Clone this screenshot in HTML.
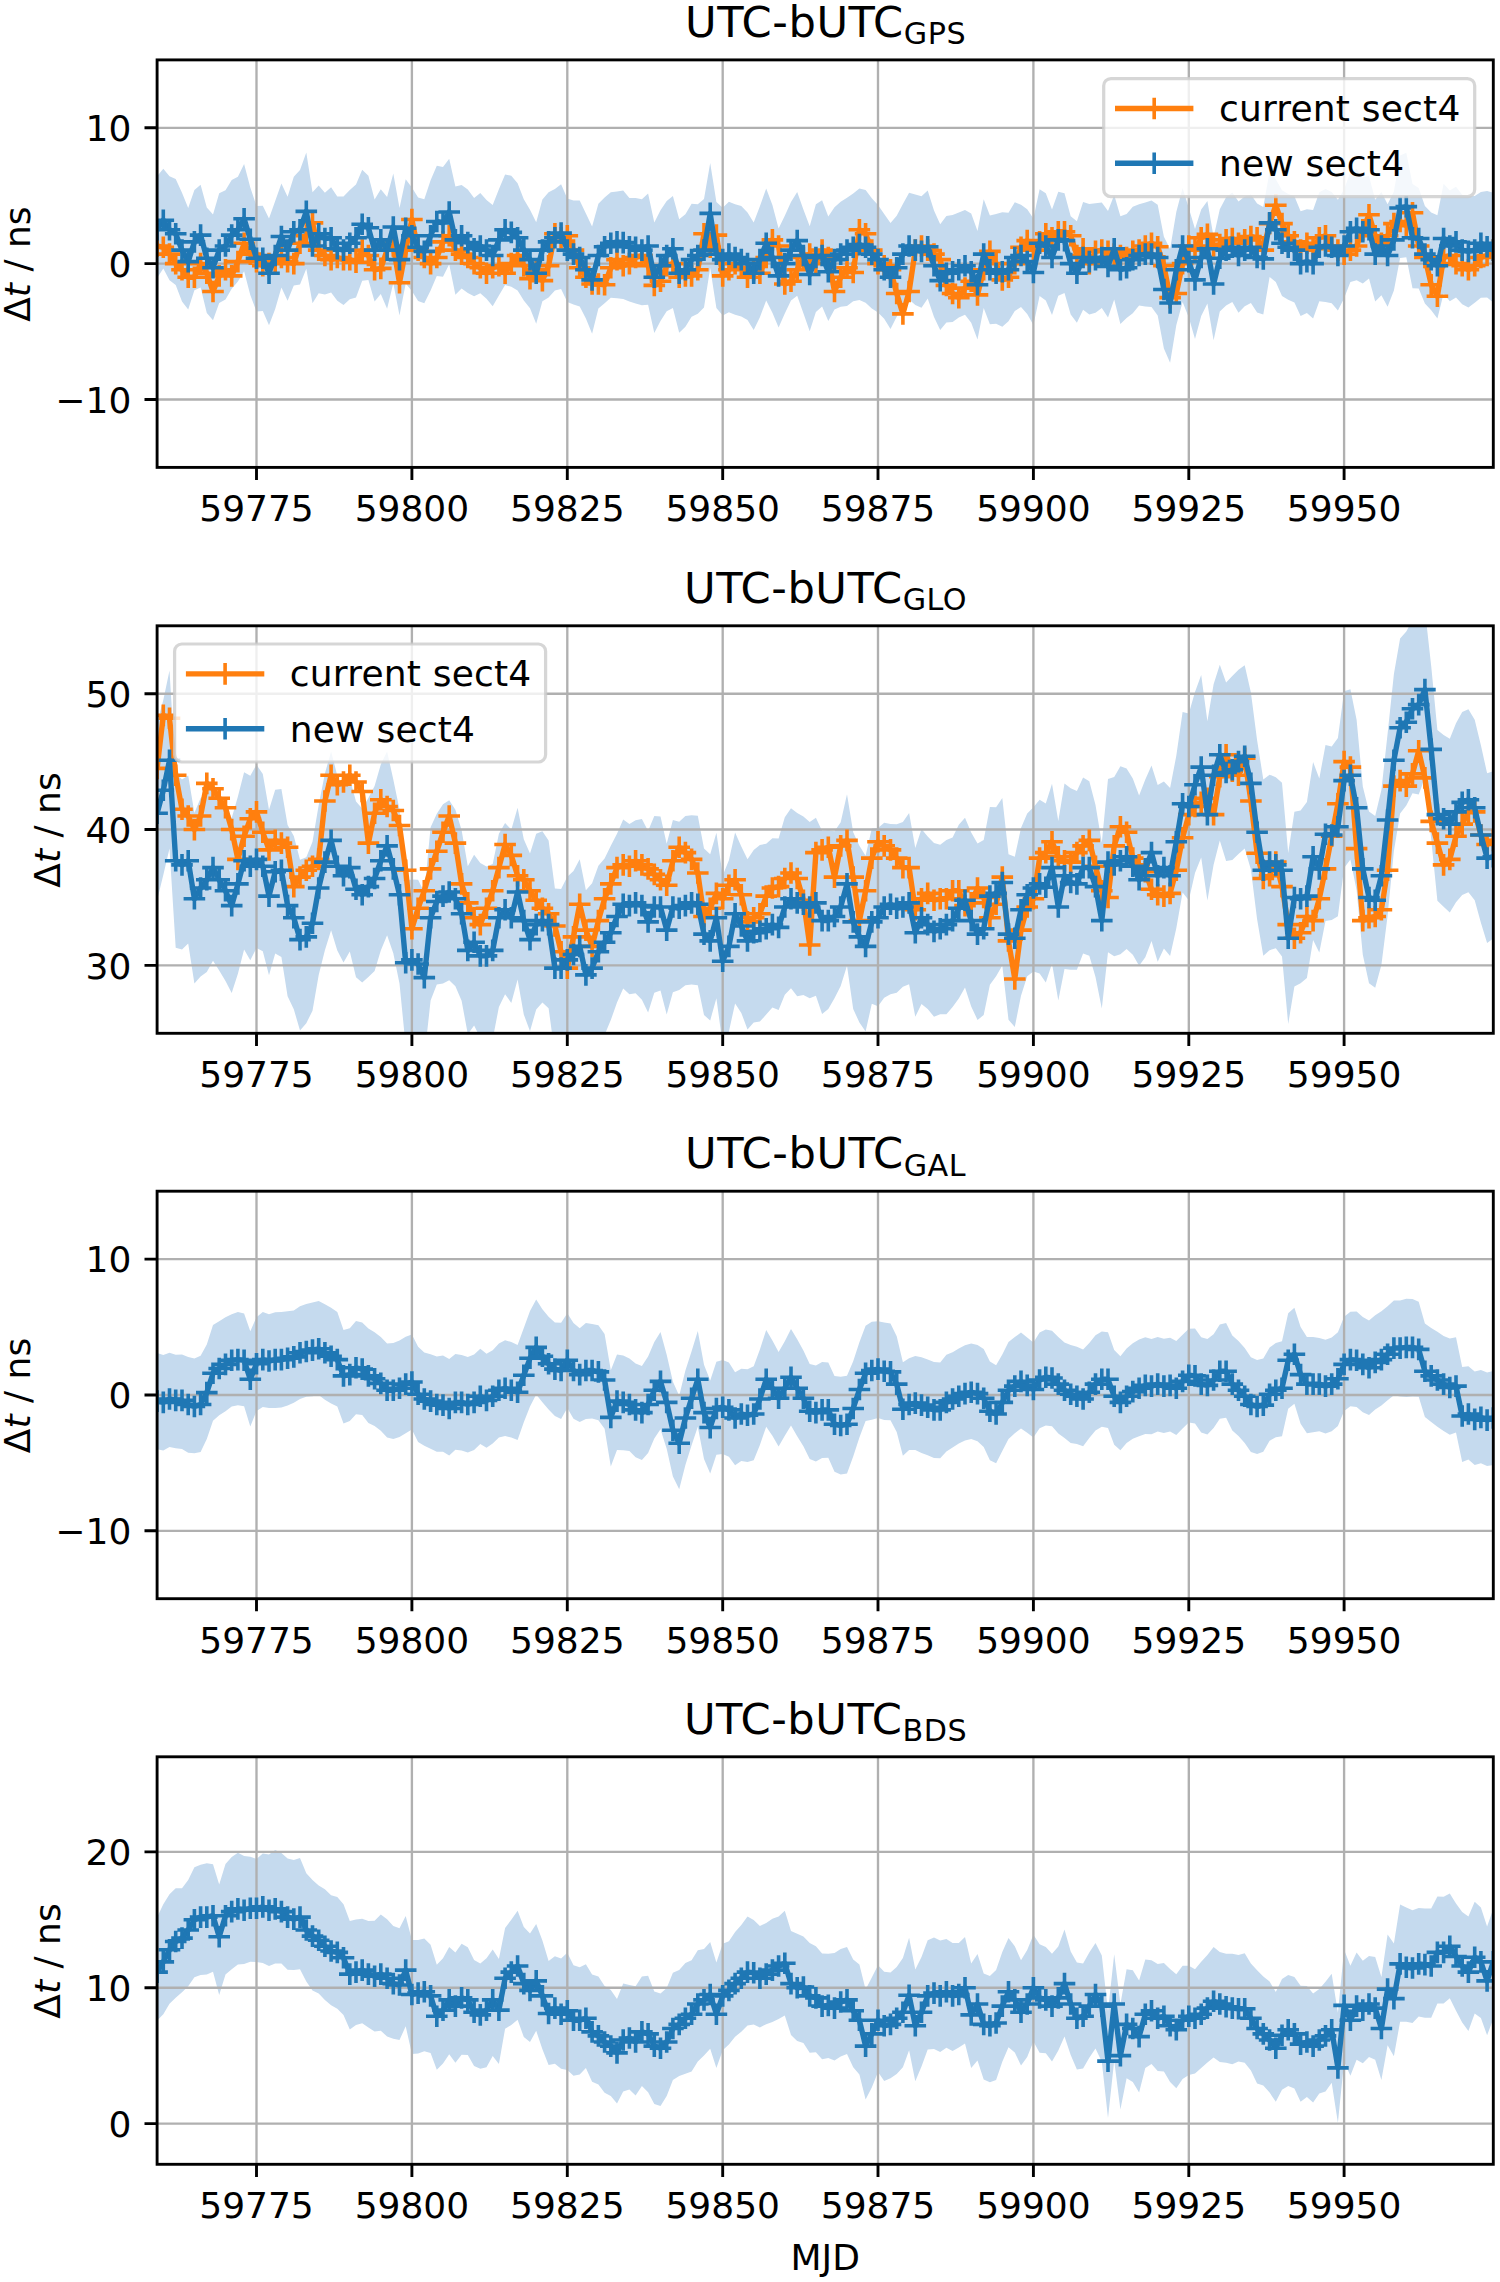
<!DOCTYPE html><html><head><meta charset="utf-8"><title>UTC-bUTC</title><style>html,body{margin:0;padding:0;background:#fff}svg{display:block}</style></head><body><svg width="1500" height="2282" viewBox="0 0 1500 2282" font-family="DejaVu Sans, Liberation Sans, sans-serif">
<rect width="1500" height="2282" fill="#fff"/>
<defs>
<clipPath id="c0"><rect x="157.1" y="59.9" width="1336.2" height="407.5"/></clipPath>
<clipPath id="c1"><rect x="157.1" y="625.8" width="1336.2" height="407.5"/></clipPath>
<clipPath id="c2"><rect x="157.1" y="1191.2" width="1336.2" height="407.5"/></clipPath>
<clipPath id="c3"><rect x="157.1" y="1756.8" width="1336.2" height="407.5"/></clipPath>
</defs>
<g clip-path="url(#c0)">
<polygon points="157.1,176.3 163.3,168.8 169.5,176.2 175.7,178.9 182.0,192.8 188.2,207.9 194.4,189.9 200.6,184.8 206.8,207.4 213.0,214.6 219.2,193.3 225.5,190.3 231.7,179.9 237.9,176.7 244.1,164.0 250.3,187.5 256.5,206.1 262.8,205.7 269.0,218.4 275.2,200.9 281.4,183.6 287.6,196.7 293.8,176.7 300.0,170.0 306.3,152.5 312.5,192.3 318.7,185.4 324.9,192.8 331.1,187.2 337.3,196.4 343.5,196.5 349.8,189.9 356.0,184.4 362.2,169.8 368.4,175.8 374.6,199.6 380.8,189.2 387.1,197.1 393.3,173.5 399.5,208.1 405.7,179.2 411.9,187.4 418.1,197.4 424.3,199.3 430.6,180.2 436.8,165.8 443.0,166.9 449.2,158.8 455.4,186.5 461.6,185.1 467.8,189.4 474.1,198.0 480.3,193.1 486.5,199.9 492.7,205.1 498.9,189.3 505.1,174.4 511.3,175.7 517.6,183.2 523.8,199.3 530.0,209.7 536.2,222.2 542.4,199.4 548.6,192.2 554.9,189.0 561.1,184.3 567.3,198.4 573.5,200.4 579.7,200.5 585.9,213.6 592.1,226.4 598.4,203.8 604.6,197.6 610.8,192.2 617.0,191.4 623.2,190.4 629.4,197.9 635.6,198.0 641.9,199.2 648.1,193.4 654.3,222.4 660.5,210.3 666.7,201.0 672.9,196.1 679.2,219.2 685.4,214.3 691.6,203.7 697.8,204.3 704.0,199.0 710.2,163.1 716.4,202.0 722.7,207.8 728.9,201.7 735.1,204.3 741.3,206.0 747.5,212.4 753.7,222.4 759.9,206.2 766.2,188.5 772.4,205.0 778.6,228.6 784.8,215.8 791.0,202.1 797.2,192.1 803.4,209.4 809.7,226.2 815.9,204.3 822.1,200.2 828.3,216.4 834.5,207.3 840.7,201.7 847.0,197.7 853.2,193.4 859.4,188.5 865.6,189.9 871.8,198.3 878.0,205.1 884.2,214.1 890.5,223.1 896.7,215.8 902.9,203.9 909.1,192.8 915.3,194.6 921.5,196.2 927.7,190.6 934.0,210.5 940.2,224.3 946.4,216.1 952.6,215.0 958.8,212.6 965.0,209.9 971.2,213.5 977.5,230.9 983.7,199.3 989.9,215.5 996.1,213.9 1002.3,212.2 1008.5,212.8 1014.8,202.2 1021.0,204.7 1027.2,209.2 1033.4,218.6 1039.6,189.2 1045.8,193.2 1052.0,209.4 1058.3,191.7 1064.5,193.2 1070.7,216.2 1076.9,221.3 1083.1,201.9 1089.3,204.0 1095.5,203.3 1101.8,202.4 1108.0,210.9 1114.2,195.0 1120.4,216.2 1126.6,214.0 1132.8,206.7 1139.1,204.3 1145.3,202.5 1151.5,200.5 1157.7,204.8 1163.9,236.8 1170.1,249.0 1176.3,212.1 1182.6,188.1 1188.8,208.1 1195.0,228.9 1201.2,209.6 1207.4,200.9 1213.6,237.1 1219.8,209.3 1226.1,197.3 1232.3,192.5 1238.5,201.6 1244.7,196.5 1250.9,194.5 1257.1,203.4 1263.3,207.1 1269.6,171.5 1275.8,179.2 1282.0,190.2 1288.2,194.1 1294.4,196.2 1300.6,211.2 1306.9,209.2 1313.1,209.9 1319.3,192.2 1325.5,189.1 1331.7,192.0 1337.9,199.8 1344.1,189.4 1350.4,171.9 1356.6,168.9 1362.8,177.2 1369.0,176.0 1375.2,199.8 1381.4,191.9 1387.6,204.3 1393.9,191.5 1400.1,155.6 1406.3,152.7 1412.5,184.1 1418.7,187.9 1424.9,205.9 1431.2,212.4 1437.4,215.2 1443.6,183.8 1449.8,190.6 1456.0,186.7 1462.2,194.8 1468.4,196.3 1474.7,195.9 1480.9,191.9 1487.1,191.0 1493.3,192.8 1493.3,302.6 1487.1,297.4 1480.9,297.8 1474.7,302.7 1468.4,307.4 1462.2,304.2 1456.0,297.5 1449.8,301.2 1443.6,293.6 1437.4,318.4 1431.2,310.2 1424.9,303.6 1418.7,288.5 1412.5,288.2 1406.3,257.2 1400.1,258.1 1393.9,290.6 1387.6,306.7 1381.4,295.2 1375.2,301.5 1369.0,278.6 1362.8,283.4 1356.6,280.3 1350.4,282.0 1344.1,298.2 1337.9,310.5 1331.7,303.2 1325.5,302.1 1319.3,301.2 1313.1,318.6 1306.9,313.1 1300.6,316.0 1294.4,302.4 1288.2,299.8 1282.0,296.1 1275.8,282.0 1269.6,276.9 1263.3,314.5 1257.1,312.4 1250.9,303.1 1244.7,306.3 1238.5,312.7 1232.3,302.1 1226.1,305.6 1219.8,311.4 1213.6,340.2 1207.4,303.6 1201.2,316.0 1195.0,339.1 1188.8,317.6 1182.6,302.1 1176.3,325.2 1170.1,362.7 1163.9,348.5 1157.7,315.5 1151.5,306.9 1145.3,306.5 1139.1,305.4 1132.8,313.2 1126.6,318.1 1120.4,323.9 1114.2,299.5 1108.0,317.6 1101.8,307.9 1095.5,312.8 1089.3,314.5 1083.1,309.8 1076.9,322.8 1070.7,314.4 1064.5,293.1 1058.3,295.7 1052.0,314.9 1045.8,300.5 1039.6,296.0 1033.4,325.0 1027.2,313.9 1021.0,307.0 1014.8,311.0 1008.5,321.2 1002.3,326.8 996.1,323.8 989.9,324.2 983.7,308.1 977.5,339.4 971.2,322.8 965.0,314.7 958.8,317.6 952.6,322.0 946.4,322.5 940.2,330.0 934.0,316.9 927.7,298.5 921.5,307.8 915.3,305.0 909.1,299.5 902.9,306.0 896.7,316.8 890.5,328.9 884.2,318.8 878.0,312.4 871.8,308.5 865.6,302.8 859.4,300.0 853.2,301.2 847.0,306.0 840.7,306.7 834.5,309.5 828.3,321.1 822.1,306.4 815.9,312.0 809.7,331.2 803.4,313.2 797.2,295.7 791.0,300.4 784.8,313.4 778.6,327.5 772.4,312.8 766.2,300.5 759.9,317.3 753.7,330.0 747.5,320.0 741.3,316.5 735.1,314.8 728.9,312.2 722.7,315.4 716.4,308.1 710.2,267.9 704.0,307.4 697.8,313.7 691.6,316.7 685.4,326.8 679.2,332.8 672.9,307.9 666.7,311.2 660.5,321.1 654.3,332.9 648.1,304.8 641.9,305.2 635.6,303.5 629.4,301.5 623.2,299.1 617.0,298.2 610.8,297.7 604.6,303.3 598.4,308.6 592.1,333.8 585.9,318.6 579.7,306.6 573.5,304.4 567.3,302.0 561.1,289.0 554.9,290.6 548.6,297.6 542.4,301.2 536.2,323.7 530.0,308.3 523.8,300.6 517.6,290.5 511.3,286.8 505.1,285.0 498.9,295.4 492.7,306.2 486.5,298.8 480.3,293.2 474.1,296.3 467.8,293.1 461.6,288.6 455.4,294.8 449.2,264.3 443.0,276.7 436.8,275.9 430.6,290.4 424.3,303.3 418.1,301.0 411.9,291.1 405.7,283.6 399.5,315.5 393.3,283.3 387.1,308.7 380.8,293.9 374.6,301.5 368.4,280.1 362.2,280.8 356.0,297.4 349.8,299.2 343.5,305.0 337.3,300.8 331.1,292.6 324.9,294.4 318.7,293.2 312.5,303.3 306.3,268.8 300.0,284.6 293.8,285.4 287.6,300.7 281.4,287.5 275.2,309.1 269.0,325.2 262.8,310.9 256.5,311.6 250.3,295.1 244.1,271.2 237.9,281.5 231.7,288.8 225.5,299.4 219.2,303.0 213.0,320.3 206.8,313.1 200.6,287.5 194.4,290.2 188.2,309.6 182.0,301.4 175.7,285.1 169.5,280.3 163.3,268.5 157.1,278.0" fill="#c5daee"/>
<path d="M256.5 59.9V467.4M411.9 59.9V467.4M567.3 59.9V467.4M722.7 59.9V467.4M878.0 59.9V467.4M1033.4 59.9V467.4M1188.8 59.9V467.4M1344.1 59.9V467.4M157.1 399.5H1493.3M157.1 263.6H1493.3M157.1 127.8H1493.3" stroke="#b0b0b0" stroke-width="2.35" fill="none"/>
<path d="M157.1 246.0 L163.3 247.3 L169.5 254.1 L175.7 263.6 L182.0 269.8 L188.2 277.2 L194.4 277.2 L200.6 263.6 L206.8 273.2 L213.0 291.5 L219.2 275.9 L225.5 269.8 L231.7 275.9 L237.9 261.6 L244.1 243.3 L250.3 254.1 L256.5 261.6 L262.8 265.7 L269.0 263.6 L275.2 261.6 L281.4 257.5 L287.6 261.6 L293.8 263.6 L300.0 243.3 L306.3 235.8 L312.5 222.9 L318.7 250.1 L324.9 255.5 L331.1 259.6 L337.3 257.5 L343.5 259.6 L349.8 259.6 L356.0 262.3 L362.2 250.1 L368.4 255.5 L374.6 269.8 L380.8 268.4 L387.1 250.1 L393.3 246.0 L399.5 282.7 L405.7 250.1 L411.9 219.5 L418.1 250.1 L424.3 257.5 L430.6 263.6 L436.8 257.5 L443.0 241.9 L449.2 235.8 L455.4 250.1 L461.6 254.1 L467.8 257.5 L474.1 263.6 L480.3 267.7 L486.5 273.2 L492.7 267.7 L498.9 265.7 L505.1 273.2 L511.3 263.6 L517.6 255.5 L523.8 265.7 L530.0 278.6 L536.2 269.8 L542.4 280.6 L548.6 265.7 L554.9 233.8 L561.1 237.8 L567.3 235.8 L573.5 250.1 L579.7 267.7 L585.9 277.2 L592.1 284.0 L598.4 284.0 L604.6 284.7 L610.8 267.7 L617.0 259.6 L623.2 265.7 L629.4 263.6 L635.6 257.5 L641.9 255.5 L648.1 265.7 L654.3 285.4 L660.5 281.3 L666.7 265.7 L672.9 263.6 L679.2 277.2 L685.4 275.9 L691.6 275.9 L697.8 269.8 L704.0 233.8 L710.2 247.3 L716.4 235.1 L722.7 275.9 L728.9 269.8 L735.1 263.6 L741.3 267.7 L747.5 277.2 L753.7 269.8 L759.9 273.2 L766.2 257.5 L772.4 239.9 L778.6 246.0 L784.8 284.0 L791.0 281.3 L797.2 269.8 L803.4 257.5 L809.7 254.1 L815.9 263.6 L822.1 250.1 L828.3 257.5 L834.5 291.5 L840.7 277.2 L847.0 267.7 L853.2 272.5 L859.4 229.7 L865.6 233.8 L871.8 250.1 L878.0 263.6 L884.2 265.7 L890.5 269.8 L896.7 293.5 L902.9 313.9 L909.1 291.5 L915.3 250.1 L921.5 246.0 L927.7 250.1 L934.0 254.1 L940.2 259.6 L946.4 285.4 L952.6 293.5 L958.8 297.6 L965.0 288.1 L971.2 281.3 L977.5 294.9 L983.7 269.8 L989.9 251.4 L996.1 263.6 L1002.3 279.9 L1008.5 277.2 L1014.8 263.6 L1021.0 247.3 L1027.2 240.6 L1033.4 250.1 L1039.6 241.9 L1045.8 233.8 L1052.0 237.8 L1058.3 231.7 L1064.5 231.7 L1070.7 235.8 L1076.9 255.5 L1083.1 248.7 L1089.3 263.6 L1095.5 251.4 L1101.8 250.1 L1108.0 251.4 L1114.2 254.1 L1120.4 255.5 L1126.6 257.5 L1132.8 251.4 L1139.1 250.1 L1145.3 246.0 L1151.5 243.3 L1157.7 246.7 L1163.9 265.7 L1170.1 297.6 L1176.3 293.5 L1182.6 263.6 L1188.8 246.0 L1195.0 250.1 L1201.2 237.8 L1207.4 234.4 L1213.6 246.0 L1219.8 244.6 L1226.1 239.9 L1232.3 238.5 L1238.5 243.3 L1244.7 239.9 L1250.9 236.5 L1257.1 237.8 L1263.3 250.1 L1269.6 223.6 L1275.8 205.2 L1282.0 223.6 L1288.2 235.8 L1294.4 241.9 L1300.6 250.1 L1306.9 243.3 L1313.1 248.7 L1319.3 237.8 L1325.5 235.8 L1331.7 246.0 L1337.9 250.1 L1344.1 254.1 L1350.4 250.1 L1356.6 246.0 L1362.8 229.7 L1369.0 214.8 L1375.2 235.8 L1381.4 243.3 L1387.6 235.8 L1393.9 223.6 L1400.1 221.5 L1406.3 225.6 L1412.5 212.7 L1418.7 246.0 L1424.9 257.5 L1431.2 284.7 L1437.4 296.2 L1443.6 257.5 L1449.8 255.5 L1456.0 263.6 L1462.2 265.7 L1468.4 269.8 L1474.7 265.7 L1480.9 257.5 L1487.1 255.5 L1493.3 250.1" stroke="#ff7f0e" stroke-width="5.40" fill="none" stroke-linejoin="round"/>
<path d="M146.3 246.0h21.6M157.1 235.2v21.6M152.5 247.3h21.6M163.3 236.5v21.6M158.7 254.1h21.6M169.5 243.3v21.6M164.9 263.6h21.6M175.7 252.8v21.6M171.2 269.8h21.6M182.0 259.0v21.6M177.4 277.2h21.6M188.2 266.4v21.6M183.6 277.2h21.6M194.4 266.4v21.6M189.8 263.6h21.6M200.6 252.8v21.6M196.0 273.2h21.6M206.8 262.4v21.6M202.2 291.5h21.6M213.0 280.7v21.6M208.4 275.9h21.6M219.2 265.1v21.6M214.7 269.8h21.6M225.5 259.0v21.6M220.9 275.9h21.6M231.7 265.1v21.6M227.1 261.6h21.6M237.9 250.8v21.6M233.3 243.3h21.6M244.1 232.5v21.6M239.5 254.1h21.6M250.3 243.3v21.6M245.7 261.6h21.6M256.5 250.8v21.6M252.0 265.7h21.6M262.8 254.9v21.6M258.2 263.6h21.6M269.0 252.8v21.6M264.4 261.6h21.6M275.2 250.8v21.6M270.6 257.5h21.6M281.4 246.7v21.6M276.8 261.6h21.6M287.6 250.8v21.6M283.0 263.6h21.6M293.8 252.8v21.6M289.2 243.3h21.6M300.0 232.5v21.6M295.5 235.8h21.6M306.3 225.0v21.6M301.7 222.9h21.6M312.5 212.1v21.6M307.9 250.1h21.6M318.7 239.3v21.6M314.1 255.5h21.6M324.9 244.7v21.6M320.3 259.6h21.6M331.1 248.8v21.6M326.5 257.5h21.6M337.3 246.7v21.6M332.7 259.6h21.6M343.5 248.8v21.6M339.0 259.6h21.6M349.8 248.8v21.6M345.2 262.3h21.6M356.0 251.5v21.6M351.4 250.1h21.6M362.2 239.3v21.6M357.6 255.5h21.6M368.4 244.7v21.6M363.8 269.8h21.6M374.6 259.0v21.6M370.0 268.4h21.6M380.8 257.6v21.6M376.3 250.1h21.6M387.1 239.3v21.6M382.5 246.0h21.6M393.3 235.2v21.6M388.7 282.7h21.6M399.5 271.9v21.6M394.9 250.1h21.6M405.7 239.3v21.6M401.1 219.5h21.6M411.9 208.7v21.6M407.3 250.1h21.6M418.1 239.3v21.6M413.5 257.5h21.6M424.3 246.7v21.6M419.8 263.6h21.6M430.6 252.8v21.6M426.0 257.5h21.6M436.8 246.7v21.6M432.2 241.9h21.6M443.0 231.1v21.6M438.4 235.8h21.6M449.2 225.0v21.6M444.6 250.1h21.6M455.4 239.3v21.6M450.8 254.1h21.6M461.6 243.3v21.6M457.0 257.5h21.6M467.8 246.7v21.6M463.3 263.6h21.6M474.1 252.8v21.6M469.5 267.7h21.6M480.3 256.9v21.6M475.7 273.2h21.6M486.5 262.4v21.6M481.9 267.7h21.6M492.7 256.9v21.6M488.1 265.7h21.6M498.9 254.9v21.6M494.3 273.2h21.6M505.1 262.4v21.6M500.5 263.6h21.6M511.3 252.8v21.6M506.8 255.5h21.6M517.6 244.7v21.6M513.0 265.7h21.6M523.8 254.9v21.6M519.2 278.6h21.6M530.0 267.8v21.6M525.4 269.8h21.6M536.2 259.0v21.6M531.6 280.6h21.6M542.4 269.8v21.6M537.8 265.7h21.6M548.6 254.9v21.6M544.1 233.8h21.6M554.9 223.0v21.6M550.3 237.8h21.6M561.1 227.0v21.6M556.5 235.8h21.6M567.3 225.0v21.6M562.7 250.1h21.6M573.5 239.3v21.6M568.9 267.7h21.6M579.7 256.9v21.6M575.1 277.2h21.6M585.9 266.4v21.6M581.3 284.0h21.6M592.1 273.2v21.6M587.6 284.0h21.6M598.4 273.2v21.6M593.8 284.7h21.6M604.6 273.9v21.6M600.0 267.7h21.6M610.8 256.9v21.6M606.2 259.6h21.6M617.0 248.8v21.6M612.4 265.7h21.6M623.2 254.9v21.6M618.6 263.6h21.6M629.4 252.8v21.6M624.8 257.5h21.6M635.6 246.7v21.6M631.1 255.5h21.6M641.9 244.7v21.6M637.3 265.7h21.6M648.1 254.9v21.6M643.5 285.4h21.6M654.3 274.6v21.6M649.7 281.3h21.6M660.5 270.5v21.6M655.9 265.7h21.6M666.7 254.9v21.6M662.1 263.6h21.6M672.9 252.8v21.6M668.4 277.2h21.6M679.2 266.4v21.6M674.6 275.9h21.6M685.4 265.1v21.6M680.8 275.9h21.6M691.6 265.1v21.6M687.0 269.8h21.6M697.8 259.0v21.6M693.2 233.8h21.6M704.0 223.0v21.6M699.4 247.3h21.6M710.2 236.5v21.6M705.6 235.1h21.6M716.4 224.3v21.6M711.9 275.9h21.6M722.7 265.1v21.6M718.1 269.8h21.6M728.9 259.0v21.6M724.3 263.6h21.6M735.1 252.8v21.6M730.5 267.7h21.6M741.3 256.9v21.6M736.7 277.2h21.6M747.5 266.4v21.6M742.9 269.8h21.6M753.7 259.0v21.6M749.1 273.2h21.6M759.9 262.4v21.6M755.4 257.5h21.6M766.2 246.7v21.6M761.6 239.9h21.6M772.4 229.1v21.6M767.8 246.0h21.6M778.6 235.2v21.6M774.0 284.0h21.6M784.8 273.2v21.6M780.2 281.3h21.6M791.0 270.5v21.6M786.4 269.8h21.6M797.2 259.0v21.6M792.6 257.5h21.6M803.4 246.7v21.6M798.9 254.1h21.6M809.7 243.3v21.6M805.1 263.6h21.6M815.9 252.8v21.6M811.3 250.1h21.6M822.1 239.3v21.6M817.5 257.5h21.6M828.3 246.7v21.6M823.7 291.5h21.6M834.5 280.7v21.6M829.9 277.2h21.6M840.7 266.4v21.6M836.2 267.7h21.6M847.0 256.9v21.6M842.4 272.5h21.6M853.2 261.7v21.6M848.6 229.7h21.6M859.4 218.9v21.6M854.8 233.8h21.6M865.6 223.0v21.6M861.0 250.1h21.6M871.8 239.3v21.6M867.2 263.6h21.6M878.0 252.8v21.6M873.4 265.7h21.6M884.2 254.9v21.6M879.7 269.8h21.6M890.5 259.0v21.6M885.9 293.5h21.6M896.7 282.7v21.6M892.1 313.9h21.6M902.9 303.1v21.6M898.3 291.5h21.6M909.1 280.7v21.6M904.5 250.1h21.6M915.3 239.3v21.6M910.7 246.0h21.6M921.5 235.2v21.6M916.9 250.1h21.6M927.7 239.3v21.6M923.2 254.1h21.6M934.0 243.3v21.6M929.4 259.6h21.6M940.2 248.8v21.6M935.6 285.4h21.6M946.4 274.6v21.6M941.8 293.5h21.6M952.6 282.7v21.6M948.0 297.6h21.6M958.8 286.8v21.6M954.2 288.1h21.6M965.0 277.3v21.6M960.4 281.3h21.6M971.2 270.5v21.6M966.7 294.9h21.6M977.5 284.1v21.6M972.9 269.8h21.6M983.7 259.0v21.6M979.1 251.4h21.6M989.9 240.6v21.6M985.3 263.6h21.6M996.1 252.8v21.6M991.5 279.9h21.6M1002.3 269.1v21.6M997.7 277.2h21.6M1008.5 266.4v21.6M1004.0 263.6h21.6M1014.8 252.8v21.6M1010.2 247.3h21.6M1021.0 236.5v21.6M1016.4 240.6h21.6M1027.2 229.8v21.6M1022.6 250.1h21.6M1033.4 239.3v21.6M1028.8 241.9h21.6M1039.6 231.1v21.6M1035.0 233.8h21.6M1045.8 223.0v21.6M1041.2 237.8h21.6M1052.0 227.0v21.6M1047.5 231.7h21.6M1058.3 220.9v21.6M1053.7 231.7h21.6M1064.5 220.9v21.6M1059.9 235.8h21.6M1070.7 225.0v21.6M1066.1 255.5h21.6M1076.9 244.7v21.6M1072.3 248.7h21.6M1083.1 237.9v21.6M1078.5 263.6h21.6M1089.3 252.8v21.6M1084.7 251.4h21.6M1095.5 240.6v21.6M1091.0 250.1h21.6M1101.8 239.3v21.6M1097.2 251.4h21.6M1108.0 240.6v21.6M1103.4 254.1h21.6M1114.2 243.3v21.6M1109.6 255.5h21.6M1120.4 244.7v21.6M1115.8 257.5h21.6M1126.6 246.7v21.6M1122.0 251.4h21.6M1132.8 240.6v21.6M1128.3 250.1h21.6M1139.1 239.3v21.6M1134.5 246.0h21.6M1145.3 235.2v21.6M1140.7 243.3h21.6M1151.5 232.5v21.6M1146.9 246.7h21.6M1157.7 235.9v21.6M1153.1 265.7h21.6M1163.9 254.9v21.6M1159.3 297.6h21.6M1170.1 286.8v21.6M1165.5 293.5h21.6M1176.3 282.7v21.6M1171.8 263.6h21.6M1182.6 252.8v21.6M1178.0 246.0h21.6M1188.8 235.2v21.6M1184.2 250.1h21.6M1195.0 239.3v21.6M1190.4 237.8h21.6M1201.2 227.0v21.6M1196.6 234.4h21.6M1207.4 223.6v21.6M1202.8 246.0h21.6M1213.6 235.2v21.6M1209.0 244.6h21.6M1219.8 233.8v21.6M1215.3 239.9h21.6M1226.1 229.1v21.6M1221.5 238.5h21.6M1232.3 227.7v21.6M1227.7 243.3h21.6M1238.5 232.5v21.6M1233.9 239.9h21.6M1244.7 229.1v21.6M1240.1 236.5h21.6M1250.9 225.7v21.6M1246.3 237.8h21.6M1257.1 227.0v21.6M1252.5 250.1h21.6M1263.3 239.3v21.6M1258.8 223.6h21.6M1269.6 212.8v21.6M1265.0 205.2h21.6M1275.8 194.4v21.6M1271.2 223.6h21.6M1282.0 212.8v21.6M1277.4 235.8h21.6M1288.2 225.0v21.6M1283.6 241.9h21.6M1294.4 231.1v21.6M1289.8 250.1h21.6M1300.6 239.3v21.6M1296.1 243.3h21.6M1306.9 232.5v21.6M1302.3 248.7h21.6M1313.1 237.9v21.6M1308.5 237.8h21.6M1319.3 227.0v21.6M1314.7 235.8h21.6M1325.5 225.0v21.6M1320.9 246.0h21.6M1331.7 235.2v21.6M1327.1 250.1h21.6M1337.9 239.3v21.6M1333.3 254.1h21.6M1344.1 243.3v21.6M1339.6 250.1h21.6M1350.4 239.3v21.6M1345.8 246.0h21.6M1356.6 235.2v21.6M1352.0 229.7h21.6M1362.8 218.9v21.6M1358.2 214.8h21.6M1369.0 203.9v21.6M1364.4 235.8h21.6M1375.2 225.0v21.6M1370.6 243.3h21.6M1381.4 232.5v21.6M1376.8 235.8h21.6M1387.6 225.0v21.6M1383.1 223.6h21.6M1393.9 212.8v21.6M1389.3 221.5h21.6M1400.1 210.7v21.6M1395.5 225.6h21.6M1406.3 214.8v21.6M1401.7 212.7h21.6M1412.5 201.9v21.6M1407.9 246.0h21.6M1418.7 235.2v21.6M1414.1 257.5h21.6M1424.9 246.7v21.6M1420.4 284.7h21.6M1431.2 273.9v21.6M1426.6 296.2h21.6M1437.4 285.4v21.6M1432.8 257.5h21.6M1443.6 246.7v21.6M1439.0 255.5h21.6M1449.8 244.7v21.6M1445.2 263.6h21.6M1456.0 252.8v21.6M1451.4 265.7h21.6M1462.2 254.9v21.6M1457.6 269.8h21.6M1468.4 259.0v21.6M1463.9 265.7h21.6M1474.7 254.9v21.6M1470.1 257.5h21.6M1480.9 246.7v21.6M1476.3 255.5h21.6M1487.1 244.7v21.6M1482.5 250.1h21.6M1493.3 239.3v21.6" stroke="#ff7f0e" stroke-width="3.60" fill="none"/>
<path d="M157.1 229.7 L163.3 220.2 L169.5 229.7 L175.7 233.8 L182.0 250.1 L188.2 261.6 L194.4 241.9 L200.6 235.1 L206.8 258.2 L213.0 267.7 L219.2 250.1 L225.5 246.0 L231.7 235.1 L237.9 229.7 L244.1 218.8 L250.3 239.2 L256.5 258.2 L262.8 258.2 L269.0 273.2 L275.2 255.5 L281.4 236.5 L287.6 250.1 L293.8 231.7 L300.0 229.7 L306.3 211.4 L312.5 246.0 L318.7 233.8 L324.9 238.5 L331.1 237.8 L337.3 248.7 L343.5 250.1 L349.8 243.3 L356.0 237.8 L362.2 224.3 L368.4 227.7 L374.6 250.1 L380.8 239.9 L387.1 250.1 L393.3 227.0 L399.5 259.6 L405.7 228.3 L411.9 235.8 L418.1 247.3 L424.3 251.4 L430.6 235.8 L436.8 221.5 L443.0 222.9 L449.2 212.0 L455.4 239.9 L461.6 235.8 L467.8 242.6 L474.1 248.7 L480.3 246.0 L486.5 250.1 L492.7 255.5 L498.9 239.9 L505.1 229.7 L511.3 232.4 L517.6 237.8 L523.8 250.1 L530.0 259.6 L536.2 273.2 L542.4 250.1 L548.6 241.9 L554.9 237.8 L561.1 233.1 L567.3 250.1 L573.5 254.1 L579.7 257.5 L585.9 269.8 L592.1 279.9 L598.4 255.5 L604.6 246.7 L610.8 243.3 L617.0 241.9 L623.2 242.6 L629.4 246.7 L635.6 247.3 L641.9 250.1 L648.1 246.0 L654.3 277.2 L660.5 265.7 L666.7 255.5 L672.9 248.7 L679.2 273.2 L685.4 269.8 L691.6 259.6 L697.8 255.5 L704.0 250.1 L710.2 213.4 L716.4 254.1 L722.7 259.6 L728.9 254.1 L735.1 257.5 L741.3 259.6 L747.5 263.6 L753.7 273.2 L759.9 259.6 L766.2 243.3 L772.4 257.5 L778.6 275.9 L784.8 263.6 L791.0 250.1 L797.2 240.6 L803.4 255.5 L809.7 274.5 L815.9 257.5 L822.1 255.5 L828.3 271.8 L834.5 259.6 L840.7 254.1 L847.0 250.1 L853.2 247.3 L859.4 244.6 L865.6 247.3 L871.8 254.1 L878.0 259.6 L884.2 269.8 L890.5 277.2 L896.7 267.7 L902.9 254.1 L909.1 246.0 L915.3 250.1 L921.5 251.4 L927.7 246.7 L934.0 265.7 L940.2 280.6 L946.4 273.2 L952.6 271.8 L958.8 269.8 L965.0 265.7 L971.2 271.8 L977.5 284.7 L983.7 254.1 L989.9 269.8 L996.1 273.2 L1002.3 271.8 L1008.5 269.8 L1014.8 257.5 L1021.0 255.5 L1027.2 261.6 L1033.4 272.5 L1039.6 243.3 L1045.8 246.0 L1052.0 257.5 L1058.3 239.9 L1064.5 240.6 L1070.7 263.6 L1076.9 273.2 L1083.1 257.5 L1089.3 261.6 L1095.5 259.6 L1101.8 257.5 L1108.0 266.4 L1114.2 248.7 L1120.4 269.8 L1126.6 267.7 L1132.8 259.6 L1139.1 255.5 L1145.3 254.1 L1151.5 254.1 L1157.7 257.5 L1163.9 289.5 L1170.1 303.0 L1176.3 269.8 L1182.6 246.0 L1188.8 261.6 L1195.0 279.9 L1201.2 257.5 L1207.4 248.7 L1213.6 284.0 L1219.8 258.2 L1226.1 250.1 L1232.3 247.3 L1238.5 255.5 L1244.7 250.1 L1250.9 247.3 L1257.1 257.5 L1263.3 258.9 L1269.6 222.9 L1275.8 229.7 L1282.0 243.3 L1288.2 247.3 L1294.4 250.1 L1300.6 263.6 L1306.9 261.6 L1313.1 263.6 L1319.3 247.3 L1325.5 246.0 L1331.7 247.3 L1337.9 255.5 L1344.1 246.0 L1350.4 231.7 L1356.6 228.3 L1362.8 231.7 L1369.0 229.7 L1375.2 254.1 L1381.4 246.0 L1387.6 255.5 L1393.9 239.9 L1400.1 208.0 L1406.3 206.6 L1412.5 237.8 L1418.7 238.5 L1424.9 254.1 L1431.2 259.6 L1437.4 265.7 L1443.6 238.5 L1449.8 246.0 L1456.0 241.9 L1462.2 250.1 L1468.4 251.4 L1474.7 250.1 L1480.9 243.3 L1487.1 246.7 L1493.3 250.1" stroke="#1f77b4" stroke-width="5.40" fill="none" stroke-linejoin="round"/>
<path d="M146.3 229.7h21.6M157.1 218.9v21.6M152.5 220.2h21.6M163.3 209.4v21.6M158.7 229.7h21.6M169.5 218.9v21.6M164.9 233.8h21.6M175.7 223.0v21.6M171.2 250.1h21.6M182.0 239.3v21.6M177.4 261.6h21.6M188.2 250.8v21.6M183.6 241.9h21.6M194.4 231.1v21.6M189.8 235.1h21.6M200.6 224.3v21.6M196.0 258.2h21.6M206.8 247.4v21.6M202.2 267.7h21.6M213.0 256.9v21.6M208.4 250.1h21.6M219.2 239.3v21.6M214.7 246.0h21.6M225.5 235.2v21.6M220.9 235.1h21.6M231.7 224.3v21.6M227.1 229.7h21.6M237.9 218.9v21.6M233.3 218.8h21.6M244.1 208.0v21.6M239.5 239.2h21.6M250.3 228.4v21.6M245.7 258.2h21.6M256.5 247.4v21.6M252.0 258.2h21.6M262.8 247.4v21.6M258.2 273.2h21.6M269.0 262.4v21.6M264.4 255.5h21.6M275.2 244.7v21.6M270.6 236.5h21.6M281.4 225.7v21.6M276.8 250.1h21.6M287.6 239.3v21.6M283.0 231.7h21.6M293.8 220.9v21.6M289.2 229.7h21.6M300.0 218.9v21.6M295.5 211.4h21.6M306.3 200.6v21.6M301.7 246.0h21.6M312.5 235.2v21.6M307.9 233.8h21.6M318.7 223.0v21.6M314.1 238.5h21.6M324.9 227.7v21.6M320.3 237.8h21.6M331.1 227.0v21.6M326.5 248.7h21.6M337.3 237.9v21.6M332.7 250.1h21.6M343.5 239.3v21.6M339.0 243.3h21.6M349.8 232.5v21.6M345.2 237.8h21.6M356.0 227.0v21.6M351.4 224.3h21.6M362.2 213.5v21.6M357.6 227.7h21.6M368.4 216.9v21.6M363.8 250.1h21.6M374.6 239.3v21.6M370.0 239.9h21.6M380.8 229.1v21.6M376.3 250.1h21.6M387.1 239.3v21.6M382.5 227.0h21.6M393.3 216.2v21.6M388.7 259.6h21.6M399.5 248.8v21.6M394.9 228.3h21.6M405.7 217.5v21.6M401.1 235.8h21.6M411.9 225.0v21.6M407.3 247.3h21.6M418.1 236.5v21.6M413.5 251.4h21.6M424.3 240.6v21.6M419.8 235.8h21.6M430.6 225.0v21.6M426.0 221.5h21.6M436.8 210.7v21.6M432.2 222.9h21.6M443.0 212.1v21.6M438.4 212.0h21.6M449.2 201.2v21.6M444.6 239.9h21.6M455.4 229.1v21.6M450.8 235.8h21.6M461.6 225.0v21.6M457.0 242.6h21.6M467.8 231.8v21.6M463.3 248.7h21.6M474.1 237.9v21.6M469.5 246.0h21.6M480.3 235.2v21.6M475.7 250.1h21.6M486.5 239.3v21.6M481.9 255.5h21.6M492.7 244.7v21.6M488.1 239.9h21.6M498.9 229.1v21.6M494.3 229.7h21.6M505.1 218.9v21.6M500.5 232.4h21.6M511.3 221.6v21.6M506.8 237.8h21.6M517.6 227.0v21.6M513.0 250.1h21.6M523.8 239.3v21.6M519.2 259.6h21.6M530.0 248.8v21.6M525.4 273.2h21.6M536.2 262.4v21.6M531.6 250.1h21.6M542.4 239.3v21.6M537.8 241.9h21.6M548.6 231.1v21.6M544.1 237.8h21.6M554.9 227.0v21.6M550.3 233.1h21.6M561.1 222.3v21.6M556.5 250.1h21.6M567.3 239.3v21.6M562.7 254.1h21.6M573.5 243.3v21.6M568.9 257.5h21.6M579.7 246.7v21.6M575.1 269.8h21.6M585.9 259.0v21.6M581.3 279.9h21.6M592.1 269.1v21.6M587.6 255.5h21.6M598.4 244.7v21.6M593.8 246.7h21.6M604.6 235.9v21.6M600.0 243.3h21.6M610.8 232.5v21.6M606.2 241.9h21.6M617.0 231.1v21.6M612.4 242.6h21.6M623.2 231.8v21.6M618.6 246.7h21.6M629.4 235.9v21.6M624.8 247.3h21.6M635.6 236.5v21.6M631.1 250.1h21.6M641.9 239.3v21.6M637.3 246.0h21.6M648.1 235.2v21.6M643.5 277.2h21.6M654.3 266.4v21.6M649.7 265.7h21.6M660.5 254.9v21.6M655.9 255.5h21.6M666.7 244.7v21.6M662.1 248.7h21.6M672.9 237.9v21.6M668.4 273.2h21.6M679.2 262.4v21.6M674.6 269.8h21.6M685.4 259.0v21.6M680.8 259.6h21.6M691.6 248.8v21.6M687.0 255.5h21.6M697.8 244.7v21.6M693.2 250.1h21.6M704.0 239.3v21.6M699.4 213.4h21.6M710.2 202.6v21.6M705.6 254.1h21.6M716.4 243.3v21.6M711.9 259.6h21.6M722.7 248.8v21.6M718.1 254.1h21.6M728.9 243.3v21.6M724.3 257.5h21.6M735.1 246.7v21.6M730.5 259.6h21.6M741.3 248.8v21.6M736.7 263.6h21.6M747.5 252.8v21.6M742.9 273.2h21.6M753.7 262.4v21.6M749.1 259.6h21.6M759.9 248.8v21.6M755.4 243.3h21.6M766.2 232.5v21.6M761.6 257.5h21.6M772.4 246.7v21.6M767.8 275.9h21.6M778.6 265.1v21.6M774.0 263.6h21.6M784.8 252.8v21.6M780.2 250.1h21.6M791.0 239.3v21.6M786.4 240.6h21.6M797.2 229.8v21.6M792.6 255.5h21.6M803.4 244.7v21.6M798.9 274.5h21.6M809.7 263.7v21.6M805.1 257.5h21.6M815.9 246.7v21.6M811.3 255.5h21.6M822.1 244.7v21.6M817.5 271.8h21.6M828.3 261.0v21.6M823.7 259.6h21.6M834.5 248.8v21.6M829.9 254.1h21.6M840.7 243.3v21.6M836.2 250.1h21.6M847.0 239.3v21.6M842.4 247.3h21.6M853.2 236.5v21.6M848.6 244.6h21.6M859.4 233.8v21.6M854.8 247.3h21.6M865.6 236.5v21.6M861.0 254.1h21.6M871.8 243.3v21.6M867.2 259.6h21.6M878.0 248.8v21.6M873.4 269.8h21.6M884.2 259.0v21.6M879.7 277.2h21.6M890.5 266.4v21.6M885.9 267.7h21.6M896.7 256.9v21.6M892.1 254.1h21.6M902.9 243.3v21.6M898.3 246.0h21.6M909.1 235.2v21.6M904.5 250.1h21.6M915.3 239.3v21.6M910.7 251.4h21.6M921.5 240.6v21.6M916.9 246.7h21.6M927.7 235.9v21.6M923.2 265.7h21.6M934.0 254.9v21.6M929.4 280.6h21.6M940.2 269.8v21.6M935.6 273.2h21.6M946.4 262.4v21.6M941.8 271.8h21.6M952.6 261.0v21.6M948.0 269.8h21.6M958.8 259.0v21.6M954.2 265.7h21.6M965.0 254.9v21.6M960.4 271.8h21.6M971.2 261.0v21.6M966.7 284.7h21.6M977.5 273.9v21.6M972.9 254.1h21.6M983.7 243.3v21.6M979.1 269.8h21.6M989.9 259.0v21.6M985.3 273.2h21.6M996.1 262.4v21.6M991.5 271.8h21.6M1002.3 261.0v21.6M997.7 269.8h21.6M1008.5 259.0v21.6M1004.0 257.5h21.6M1014.8 246.7v21.6M1010.2 255.5h21.6M1021.0 244.7v21.6M1016.4 261.6h21.6M1027.2 250.8v21.6M1022.6 272.5h21.6M1033.4 261.7v21.6M1028.8 243.3h21.6M1039.6 232.5v21.6M1035.0 246.0h21.6M1045.8 235.2v21.6M1041.2 257.5h21.6M1052.0 246.7v21.6M1047.5 239.9h21.6M1058.3 229.1v21.6M1053.7 240.6h21.6M1064.5 229.8v21.6M1059.9 263.6h21.6M1070.7 252.8v21.6M1066.1 273.2h21.6M1076.9 262.4v21.6M1072.3 257.5h21.6M1083.1 246.7v21.6M1078.5 261.6h21.6M1089.3 250.8v21.6M1084.7 259.6h21.6M1095.5 248.8v21.6M1091.0 257.5h21.6M1101.8 246.7v21.6M1097.2 266.4h21.6M1108.0 255.6v21.6M1103.4 248.7h21.6M1114.2 237.9v21.6M1109.6 269.8h21.6M1120.4 259.0v21.6M1115.8 267.7h21.6M1126.6 256.9v21.6M1122.0 259.6h21.6M1132.8 248.8v21.6M1128.3 255.5h21.6M1139.1 244.7v21.6M1134.5 254.1h21.6M1145.3 243.3v21.6M1140.7 254.1h21.6M1151.5 243.3v21.6M1146.9 257.5h21.6M1157.7 246.7v21.6M1153.1 289.5h21.6M1163.9 278.7v21.6M1159.3 303.0h21.6M1170.1 292.2v21.6M1165.5 269.8h21.6M1176.3 259.0v21.6M1171.8 246.0h21.6M1182.6 235.2v21.6M1178.0 261.6h21.6M1188.8 250.8v21.6M1184.2 279.9h21.6M1195.0 269.1v21.6M1190.4 257.5h21.6M1201.2 246.7v21.6M1196.6 248.7h21.6M1207.4 237.9v21.6M1202.8 284.0h21.6M1213.6 273.2v21.6M1209.0 258.2h21.6M1219.8 247.4v21.6M1215.3 250.1h21.6M1226.1 239.3v21.6M1221.5 247.3h21.6M1232.3 236.5v21.6M1227.7 255.5h21.6M1238.5 244.7v21.6M1233.9 250.1h21.6M1244.7 239.3v21.6M1240.1 247.3h21.6M1250.9 236.5v21.6M1246.3 257.5h21.6M1257.1 246.7v21.6M1252.5 258.9h21.6M1263.3 248.1v21.6M1258.8 222.9h21.6M1269.6 212.1v21.6M1265.0 229.7h21.6M1275.8 218.9v21.6M1271.2 243.3h21.6M1282.0 232.5v21.6M1277.4 247.3h21.6M1288.2 236.5v21.6M1283.6 250.1h21.6M1294.4 239.3v21.6M1289.8 263.6h21.6M1300.6 252.8v21.6M1296.1 261.6h21.6M1306.9 250.8v21.6M1302.3 263.6h21.6M1313.1 252.8v21.6M1308.5 247.3h21.6M1319.3 236.5v21.6M1314.7 246.0h21.6M1325.5 235.2v21.6M1320.9 247.3h21.6M1331.7 236.5v21.6M1327.1 255.5h21.6M1337.9 244.7v21.6M1333.3 246.0h21.6M1344.1 235.2v21.6M1339.6 231.7h21.6M1350.4 220.9v21.6M1345.8 228.3h21.6M1356.6 217.5v21.6M1352.0 231.7h21.6M1362.8 220.9v21.6M1358.2 229.7h21.6M1369.0 218.9v21.6M1364.4 254.1h21.6M1375.2 243.3v21.6M1370.6 246.0h21.6M1381.4 235.2v21.6M1376.8 255.5h21.6M1387.6 244.7v21.6M1383.1 239.9h21.6M1393.9 229.1v21.6M1389.3 208.0h21.6M1400.1 197.2v21.6M1395.5 206.6h21.6M1406.3 195.8v21.6M1401.7 237.8h21.6M1412.5 227.0v21.6M1407.9 238.5h21.6M1418.7 227.7v21.6M1414.1 254.1h21.6M1424.9 243.3v21.6M1420.4 259.6h21.6M1431.2 248.8v21.6M1426.6 265.7h21.6M1437.4 254.9v21.6M1432.8 238.5h21.6M1443.6 227.7v21.6M1439.0 246.0h21.6M1449.8 235.2v21.6M1445.2 241.9h21.6M1456.0 231.1v21.6M1451.4 250.1h21.6M1462.2 239.3v21.6M1457.6 251.4h21.6M1468.4 240.6v21.6M1463.9 250.1h21.6M1474.7 239.3v21.6M1470.1 243.3h21.6M1480.9 232.5v21.6M1476.3 246.7h21.6M1487.1 235.9v21.6M1482.5 250.1h21.6M1493.3 239.3v21.6" stroke="#1f77b4" stroke-width="3.60" fill="none"/>
</g>
<path d="M256.5 467.4v12.6M411.9 467.4v12.6M567.3 467.4v12.6M722.7 467.4v12.6M878.0 467.4v12.6M1033.4 467.4v12.6M1188.8 467.4v12.6M1344.1 467.4v12.6M157.1 399.5h-12.6M157.1 263.6h-12.6M157.1 127.8h-12.6" stroke="#000" stroke-width="2.88" fill="none"/>
<rect x="157.1" y="59.9" width="1336.2" height="407.5" fill="none" stroke="#000" stroke-width="2.88"/>
<text x="256.5" y="521.2" font-size="36.0" text-anchor="middle">59775</text>
<text x="411.9" y="521.2" font-size="36.0" text-anchor="middle">59800</text>
<text x="567.3" y="521.2" font-size="36.0" text-anchor="middle">59825</text>
<text x="722.7" y="521.2" font-size="36.0" text-anchor="middle">59850</text>
<text x="878.0" y="521.2" font-size="36.0" text-anchor="middle">59875</text>
<text x="1033.4" y="521.2" font-size="36.0" text-anchor="middle">59900</text>
<text x="1188.8" y="521.2" font-size="36.0" text-anchor="middle">59925</text>
<text x="1344.1" y="521.2" font-size="36.0" text-anchor="middle">59950</text>
<text x="131.3" y="412.8" font-size="36.0" text-anchor="end">−10</text>
<text x="131.3" y="276.9" font-size="36.0" text-anchor="end">0</text>
<text x="131.3" y="141.1" font-size="36.0" text-anchor="end">10</text>
<text x="825.6" y="36.9" font-size="43.2" letter-spacing="0.55" text-anchor="middle">UTC-bUTC<tspan font-size="30.2" dy="7.5">GPS</tspan></text>
<text transform="translate(30.2,264.1) rotate(-90)" font-size="36.0" text-anchor="middle">Δ<tspan font-style="italic">t</tspan> / ns</text>
<g clip-path="url(#c1)">
<polygon points="157.1,723.2 163.3,700.1 169.5,670.5 175.7,773.4 182.0,779.5 188.2,775.4 194.4,813.1 200.6,798.0 206.8,792.8 213.0,782.8 219.2,800.0 225.5,805.8 231.7,818.0 237.9,796.6 244.1,772.3 250.3,775.8 256.5,764.7 262.8,774.1 269.0,809.7 275.2,789.7 281.4,789.0 287.6,825.0 293.8,836.0 300.0,859.8 306.3,857.2 312.5,841.7 318.7,805.0 324.9,773.5 331.1,751.4 337.3,775.7 343.5,787.7 349.8,778.5 356.0,801.5 362.2,808.5 368.4,798.0 374.6,786.1 380.8,764.4 387.1,751.6 393.3,779.4 399.5,809.6 405.7,880.4 411.9,879.4 418.1,879.7 424.3,892.5 430.6,827.3 436.8,813.7 443.0,804.3 449.2,800.2 455.4,809.7 461.6,830.0 467.8,866.2 474.1,854.7 480.3,862.9 486.5,866.5 492.7,863.9 498.9,833.7 505.1,822.9 511.3,829.7 517.6,807.7 523.8,839.3 530.0,853.5 536.2,833.8 542.4,831.2 548.6,840.4 554.9,888.5 561.1,888.9 567.3,876.8 573.5,870.9 579.7,859.2 585.9,890.2 592.1,883.3 598.4,865.8 604.6,858.5 610.8,845.8 617.0,833.8 623.2,819.6 629.4,824.0 635.6,820.2 641.9,819.0 648.1,831.1 654.3,816.0 660.5,816.6 666.7,843.8 672.9,820.1 679.2,821.7 685.4,815.9 691.6,815.3 697.8,815.7 704.0,848.6 710.2,854.3 716.4,832.7 722.7,875.4 728.9,860.2 735.1,832.5 741.3,846.4 747.5,859.3 753.7,850.0 759.9,845.0 766.2,843.8 772.4,838.2 778.6,838.4 784.8,817.2 791.0,808.2 797.2,813.0 803.4,816.5 809.7,822.1 815.9,817.8 822.1,830.9 828.3,830.3 834.5,831.3 840.7,822.3 847.0,794.3 853.2,832.3 859.4,845.8 865.6,855.7 871.8,828.4 878.0,828.0 884.2,822.7 890.5,823.9 896.7,824.2 902.9,821.9 909.1,813.1 915.3,848.0 921.5,828.9 927.7,836.4 934.0,843.0 940.2,844.8 946.4,839.9 952.6,837.4 958.8,824.8 965.0,817.8 971.2,832.6 977.5,843.5 983.7,840.0 989.9,807.0 996.1,807.2 1002.3,798.1 1008.5,854.3 1014.8,856.7 1021.0,827.9 1027.2,813.6 1033.4,807.3 1039.6,799.7 1045.8,803.4 1052.0,783.7 1058.3,820.9 1064.5,783.6 1070.7,788.3 1076.9,791.1 1083.1,777.6 1089.3,781.2 1095.5,804.9 1101.8,842.8 1108.0,779.0 1114.2,777.0 1120.4,766.3 1126.6,768.5 1132.8,778.4 1139.1,795.4 1145.3,779.5 1151.5,765.5 1157.7,784.9 1163.9,781.4 1170.1,787.9 1176.3,755.8 1182.6,712.0 1188.8,713.4 1195.0,691.9 1201.2,675.0 1207.4,721.2 1213.6,684.3 1219.8,664.7 1226.1,682.5 1232.3,676.1 1238.5,669.8 1244.7,665.2 1250.9,692.4 1257.1,740.2 1263.3,779.4 1269.6,774.7 1275.8,777.3 1282.0,782.8 1288.2,852.9 1294.4,811.7 1300.6,810.4 1306.9,802.0 1313.1,762.0 1319.3,778.5 1325.5,744.9 1331.7,746.6 1337.9,738.1 1344.1,691.2 1350.4,689.3 1356.6,719.7 1362.8,786.5 1369.0,811.4 1375.2,816.0 1381.4,790.1 1387.6,733.7 1393.9,673.9 1400.1,638.6 1406.3,631.6 1412.5,619.7 1418.7,619.9 1424.9,609.3 1431.2,666.1 1437.4,729.9 1443.6,734.9 1449.8,738.8 1456.0,723.3 1462.2,711.9 1468.4,709.2 1474.7,719.7 1480.9,745.3 1487.1,773.3 1493.3,771.2 1493.3,938.4 1487.1,943.1 1480.9,922.7 1474.7,900.2 1468.4,892.2 1462.2,895.1 1456.0,902.2 1449.8,912.4 1443.6,906.7 1437.4,900.8 1431.2,839.1 1424.9,778.1 1418.7,794.4 1412.5,793.3 1406.3,805.5 1400.1,813.6 1393.9,851.0 1387.6,915.7 1381.4,964.9 1375.2,987.7 1369.0,983.2 1362.8,954.8 1356.6,890.2 1350.4,859.6 1344.1,868.0 1337.9,916.2 1331.7,919.9 1325.5,921.0 1319.3,952.5 1313.1,940.0 1306.9,978.0 1300.6,983.3 1294.4,986.5 1288.2,1024.1 1282.0,956.6 1275.8,948.3 1269.6,950.2 1263.3,955.8 1257.1,919.2 1250.9,869.6 1244.7,848.5 1238.5,853.9 1232.3,859.9 1226.1,861.1 1219.8,840.6 1213.6,864.7 1207.4,900.5 1201.2,857.5 1195.0,873.1 1188.8,900.2 1182.6,892.4 1176.3,928.2 1170.1,956.0 1163.9,948.5 1157.7,961.7 1151.5,940.9 1145.3,957.2 1139.1,965.8 1132.8,954.8 1126.6,949.1 1120.4,954.3 1114.2,956.2 1108.0,952.3 1101.8,1008.5 1095.5,977.1 1089.3,955.8 1083.1,953.5 1076.9,969.7 1070.7,969.8 1064.5,968.9 1058.3,1000.5 1052.0,963.6 1045.8,982.5 1039.6,973.4 1033.4,971.4 1027.2,976.2 1021.0,995.8 1014.8,1026.9 1008.5,1019.7 1002.3,965.4 996.1,976.2 989.9,984.7 983.7,1015.1 977.5,1019.9 971.2,1006.4 965.0,987.4 958.8,998.4 952.6,1006.9 946.4,1014.3 940.2,1014.3 934.0,1016.7 927.7,1009.0 921.5,1004.0 915.3,1016.8 909.1,984.3 902.9,986.7 896.7,992.8 890.5,994.2 884.2,997.7 878.0,1006.3 871.8,1003.8 865.6,1031.6 859.4,1022.5 853.2,1009.0 847.0,965.8 840.7,985.9 834.5,998.3 828.3,1008.9 822.1,1014.0 815.9,995.8 809.7,998.3 803.4,995.0 797.2,996.2 791.0,988.2 784.8,994.8 778.6,1010.1 772.4,1007.6 766.2,1014.6 759.9,1021.6 753.7,1022.5 747.5,1029.4 741.3,1012.9 735.1,1003.4 728.9,1031.5 722.7,1045.0 716.4,998.2 710.2,1020.5 704.0,1015.0 697.8,985.2 691.6,984.4 685.4,985.3 679.2,989.9 672.9,992.3 666.7,1014.6 660.5,990.6 654.3,992.8 648.1,1012.5 641.9,999.8 635.6,993.3 629.4,994.3 623.2,988.6 617.0,1002.6 610.8,1020.1 604.6,1034.9 598.4,1042.5 592.1,1056.0 585.9,1059.8 579.7,1034.1 573.5,1040.9 567.3,1046.7 561.1,1053.0 554.9,1054.8 548.6,1008.2 542.4,1002.5 536.2,1009.4 530.0,1031.2 523.8,1014.5 517.6,979.6 511.3,1002.9 505.1,994.3 498.9,1006.9 492.7,1039.3 486.5,1041.7 480.3,1037.7 474.1,1025.6 467.8,1034.2 461.6,1000.7 455.4,986.3 449.2,980.2 443.0,983.5 436.8,984.4 430.6,1000.6 424.3,1058.1 418.1,1043.1 411.9,1042.9 405.7,1046.4 399.5,983.6 393.3,953.2 387.1,935.3 380.8,950.6 374.6,971.0 368.4,977.0 362.2,982.5 356.0,977.3 349.8,951.5 343.5,962.6 337.3,950.5 331.1,930.2 324.9,950.2 318.7,975.1 312.5,1010.7 306.3,1023.3 300.0,1030.4 293.8,1009.3 287.6,996.2 281.4,957.1 275.2,953.4 269.0,975.2 262.8,951.2 256.5,948.0 250.3,960.2 244.1,949.4 237.9,973.7 231.7,992.9 225.5,981.0 219.2,970.6 213.0,960.8 206.8,972.1 200.6,976.6 194.4,983.5 188.2,943.4 182.0,949.6 175.7,947.8 169.5,848.4 163.3,874.9 157.1,900.3" fill="#c5daee"/>
<path d="M256.5 625.8V1033.3M411.9 625.8V1033.3M567.3 625.8V1033.3M722.7 625.8V1033.3M878.0 625.8V1033.3M1033.4 625.8V1033.3M1188.8 625.8V1033.3M1344.1 625.8V1033.3M157.1 965.4H1493.3M157.1 829.5H1493.3M157.1 693.7H1493.3" stroke="#b0b0b0" stroke-width="2.35" fill="none"/>
<path d="M157.1 768.4 L163.3 715.4 L169.5 718.2 L175.7 775.2 L182.0 809.2 L188.2 816.0 L194.4 829.5 L200.6 816.0 L206.8 783.4 L213.0 788.8 L219.2 798.3 L225.5 807.8 L231.7 829.5 L237.9 859.4 L244.1 836.3 L250.3 818.7 L256.5 811.9 L262.8 832.3 L269.0 849.9 L275.2 840.4 L281.4 843.1 L287.6 847.2 L293.8 886.6 L300.0 877.1 L306.3 870.3 L312.5 866.2 L318.7 859.4 L324.9 801.0 L331.1 775.2 L337.3 784.7 L343.5 782.0 L349.8 775.2 L356.0 782.0 L362.2 791.5 L368.4 843.1 L374.6 813.2 L380.8 799.7 L387.1 806.5 L393.3 810.5 L399.5 825.5 L405.7 870.3 L411.9 928.7 L418.1 908.3 L424.3 890.7 L430.6 868.9 L436.8 851.3 L443.0 832.3 L449.2 816.0 L455.4 843.1 L461.6 883.9 L467.8 902.9 L474.1 917.8 L480.3 924.6 L486.5 908.3 L492.7 890.7 L498.9 867.6 L505.1 844.5 L511.3 855.4 L517.6 875.7 L523.8 879.8 L530.0 890.7 L536.2 900.2 L542.4 908.3 L548.6 913.8 L554.9 926.0 L561.1 951.8 L567.3 968.1 L573.5 936.9 L579.7 904.3 L585.9 930.1 L592.1 946.4 L598.4 920.6 L604.6 898.8 L610.8 883.9 L617.0 867.6 L623.2 864.9 L629.4 866.2 L635.6 860.8 L641.9 864.9 L648.1 868.9 L654.3 874.4 L660.5 879.8 L666.7 885.2 L672.9 860.8 L679.2 847.2 L685.4 852.6 L691.6 859.4 L697.8 873.0 L704.0 916.5 L710.2 908.3 L716.4 893.4 L722.7 898.8 L728.9 885.2 L735.1 879.8 L741.3 894.8 L747.5 921.9 L753.7 917.8 L759.9 913.8 L766.2 896.1 L772.4 888.0 L778.6 886.6 L784.8 878.5 L791.0 873.0 L797.2 878.5 L803.4 900.2 L809.7 945.0 L815.9 852.6 L822.1 849.9 L828.3 847.2 L834.5 877.1 L840.7 845.9 L847.0 840.4 L853.2 877.1 L859.4 920.6 L865.6 890.7 L871.8 858.1 L878.0 841.8 L884.2 845.9 L890.5 849.9 L896.7 858.1 L902.9 867.6 L909.1 867.6 L915.3 909.7 L921.5 898.8 L927.7 893.4 L934.0 900.2 L940.2 898.8 L946.4 898.8 L952.6 890.7 L958.8 890.7 L965.0 905.6 L971.2 902.9 L977.5 888.0 L983.7 897.5 L989.9 917.8 L996.1 904.3 L1002.3 877.1 L1008.5 940.9 L1014.8 979.0 L1021.0 930.1 L1027.2 907.0 L1033.4 898.8 L1039.6 858.1 L1045.8 852.6 L1052.0 841.8 L1058.3 856.7 L1064.5 860.8 L1070.7 862.1 L1076.9 852.6 L1083.1 845.9 L1089.3 840.4 L1095.5 866.2 L1101.8 890.7 L1108.0 897.5 L1114.2 845.9 L1120.4 826.8 L1126.6 832.3 L1132.8 858.1 L1139.1 864.9 L1145.3 871.7 L1151.5 889.3 L1157.7 894.8 L1163.9 896.1 L1170.1 893.4 L1176.3 870.3 L1182.6 837.7 L1188.8 814.6 L1195.0 806.5 L1201.2 802.4 L1207.4 798.3 L1213.6 814.6 L1219.8 776.6 L1226.1 754.8 L1232.3 771.1 L1238.5 775.2 L1244.7 758.2 L1250.9 801.0 L1257.1 853.3 L1263.3 878.5 L1269.6 875.7 L1275.8 862.1 L1282.0 886.6 L1288.2 924.6 L1294.4 938.2 L1300.6 932.8 L1306.9 916.5 L1313.1 920.6 L1319.3 898.8 L1325.5 868.9 L1331.7 836.3 L1337.9 803.7 L1344.1 761.6 L1350.4 767.1 L1356.6 848.6 L1362.8 920.6 L1369.0 917.8 L1375.2 916.5 L1381.4 909.7 L1387.6 870.3 L1393.9 786.1 L1400.1 780.6 L1406.3 786.1 L1412.5 773.9 L1418.7 750.8 L1424.9 777.9 L1431.2 821.4 L1437.4 843.1 L1443.6 864.9 L1449.8 859.4 L1456.0 836.3 L1462.2 824.1 L1468.4 811.9 L1474.7 811.9 L1480.9 835.0 L1487.1 844.5 L1493.3 840.4" stroke="#ff7f0e" stroke-width="5.40" fill="none" stroke-linejoin="round"/>
<path d="M146.3 768.4h21.6M157.1 757.6v21.6M152.5 715.4h21.6M163.3 704.6v21.6M158.7 718.2h21.6M169.5 707.4v21.6M164.9 775.2h21.6M175.7 764.4v21.6M171.2 809.2h21.6M182.0 798.4v21.6M177.4 816.0h21.6M188.2 805.2v21.6M183.6 829.5h21.6M194.4 818.8v21.6M189.8 816.0h21.6M200.6 805.2v21.6M196.0 783.4h21.6M206.8 772.6v21.6M202.2 788.8h21.6M213.0 778.0v21.6M208.4 798.3h21.6M219.2 787.5v21.6M214.7 807.8h21.6M225.5 797.0v21.6M220.9 829.5h21.6M231.7 818.8v21.6M227.1 859.4h21.6M237.9 848.6v21.6M233.3 836.3h21.6M244.1 825.5v21.6M239.5 818.7h21.6M250.3 807.9v21.6M245.7 811.9h21.6M256.5 801.1v21.6M252.0 832.3h21.6M262.8 821.5v21.6M258.2 849.9h21.6M269.0 839.1v21.6M264.4 840.4h21.6M275.2 829.6v21.6M270.6 843.1h21.6M281.4 832.3v21.6M276.8 847.2h21.6M287.6 836.4v21.6M283.0 886.6h21.6M293.8 875.8v21.6M289.2 877.1h21.6M300.0 866.3v21.6M295.5 870.3h21.6M306.3 859.5v21.6M301.7 866.2h21.6M312.5 855.4v21.6M307.9 859.4h21.6M318.7 848.6v21.6M314.1 801.0h21.6M324.9 790.2v21.6M320.3 775.2h21.6M331.1 764.4v21.6M326.5 784.7h21.6M337.3 773.9v21.6M332.7 782.0h21.6M343.5 771.2v21.6M339.0 775.2h21.6M349.8 764.4v21.6M345.2 782.0h21.6M356.0 771.2v21.6M351.4 791.5h21.6M362.2 780.7v21.6M357.6 843.1h21.6M368.4 832.3v21.6M363.8 813.2h21.6M374.6 802.4v21.6M370.0 799.7h21.6M380.8 788.9v21.6M376.3 806.5h21.6M387.1 795.7v21.6M382.5 810.5h21.6M393.3 799.7v21.6M388.7 825.5h21.6M399.5 814.7v21.6M394.9 870.3h21.6M405.7 859.5v21.6M401.1 928.7h21.6M411.9 917.9v21.6M407.3 908.3h21.6M418.1 897.5v21.6M413.5 890.7h21.6M424.3 879.9v21.6M419.8 868.9h21.6M430.6 858.1v21.6M426.0 851.3h21.6M436.8 840.5v21.6M432.2 832.3h21.6M443.0 821.5v21.6M438.4 816.0h21.6M449.2 805.2v21.6M444.6 843.1h21.6M455.4 832.3v21.6M450.8 883.9h21.6M461.6 873.1v21.6M457.0 902.9h21.6M467.8 892.1v21.6M463.3 917.8h21.6M474.1 907.0v21.6M469.5 924.6h21.6M480.3 913.8v21.6M475.7 908.3h21.6M486.5 897.5v21.6M481.9 890.7h21.6M492.7 879.9v21.6M488.1 867.6h21.6M498.9 856.8v21.6M494.3 844.5h21.6M505.1 833.7v21.6M500.5 855.4h21.6M511.3 844.6v21.6M506.8 875.7h21.6M517.6 864.9v21.6M513.0 879.8h21.6M523.8 869.0v21.6M519.2 890.7h21.6M530.0 879.9v21.6M525.4 900.2h21.6M536.2 889.4v21.6M531.6 908.3h21.6M542.4 897.5v21.6M537.8 913.8h21.6M548.6 903.0v21.6M544.1 926.0h21.6M554.9 915.2v21.6M550.3 951.8h21.6M561.1 941.0v21.6M556.5 968.1h21.6M567.3 957.3v21.6M562.7 936.9h21.6M573.5 926.1v21.6M568.9 904.3h21.6M579.7 893.5v21.6M575.1 930.1h21.6M585.9 919.3v21.6M581.3 946.4h21.6M592.1 935.6v21.6M587.6 920.6h21.6M598.4 909.8v21.6M593.8 898.8h21.6M604.6 888.0v21.6M600.0 883.9h21.6M610.8 873.1v21.6M606.2 867.6h21.6M617.0 856.8v21.6M612.4 864.9h21.6M623.2 854.1v21.6M618.6 866.2h21.6M629.4 855.4v21.6M624.8 860.8h21.6M635.6 850.0v21.6M631.1 864.9h21.6M641.9 854.1v21.6M637.3 868.9h21.6M648.1 858.1v21.6M643.5 874.4h21.6M654.3 863.6v21.6M649.7 879.8h21.6M660.5 869.0v21.6M655.9 885.2h21.6M666.7 874.4v21.6M662.1 860.8h21.6M672.9 850.0v21.6M668.4 847.2h21.6M679.2 836.4v21.6M674.6 852.6h21.6M685.4 841.8v21.6M680.8 859.4h21.6M691.6 848.6v21.6M687.0 873.0h21.6M697.8 862.2v21.6M693.2 916.5h21.6M704.0 905.7v21.6M699.4 908.3h21.6M710.2 897.5v21.6M705.6 893.4h21.6M716.4 882.6v21.6M711.9 898.8h21.6M722.7 888.0v21.6M718.1 885.2h21.6M728.9 874.4v21.6M724.3 879.8h21.6M735.1 869.0v21.6M730.5 894.8h21.6M741.3 884.0v21.6M736.7 921.9h21.6M747.5 911.1v21.6M742.9 917.8h21.6M753.7 907.0v21.6M749.1 913.8h21.6M759.9 903.0v21.6M755.4 896.1h21.6M766.2 885.3v21.6M761.6 888.0h21.6M772.4 877.2v21.6M767.8 886.6h21.6M778.6 875.8v21.6M774.0 878.5h21.6M784.8 867.7v21.6M780.2 873.0h21.6M791.0 862.2v21.6M786.4 878.5h21.6M797.2 867.7v21.6M792.6 900.2h21.6M803.4 889.4v21.6M798.9 945.0h21.6M809.7 934.2v21.6M805.1 852.6h21.6M815.9 841.8v21.6M811.3 849.9h21.6M822.1 839.1v21.6M817.5 847.2h21.6M828.3 836.4v21.6M823.7 877.1h21.6M834.5 866.3v21.6M829.9 845.9h21.6M840.7 835.1v21.6M836.2 840.4h21.6M847.0 829.6v21.6M842.4 877.1h21.6M853.2 866.3v21.6M848.6 920.6h21.6M859.4 909.8v21.6M854.8 890.7h21.6M865.6 879.9v21.6M861.0 858.1h21.6M871.8 847.3v21.6M867.2 841.8h21.6M878.0 831.0v21.6M873.4 845.9h21.6M884.2 835.1v21.6M879.7 849.9h21.6M890.5 839.1v21.6M885.9 858.1h21.6M896.7 847.3v21.6M892.1 867.6h21.6M902.9 856.8v21.6M898.3 867.6h21.6M909.1 856.8v21.6M904.5 909.7h21.6M915.3 898.9v21.6M910.7 898.8h21.6M921.5 888.0v21.6M916.9 893.4h21.6M927.7 882.6v21.6M923.2 900.2h21.6M934.0 889.4v21.6M929.4 898.8h21.6M940.2 888.0v21.6M935.6 898.8h21.6M946.4 888.0v21.6M941.8 890.7h21.6M952.6 879.9v21.6M948.0 890.7h21.6M958.8 879.9v21.6M954.2 905.6h21.6M965.0 894.8v21.6M960.4 902.9h21.6M971.2 892.1v21.6M966.7 888.0h21.6M977.5 877.2v21.6M972.9 897.5h21.6M983.7 886.7v21.6M979.1 917.8h21.6M989.9 907.0v21.6M985.3 904.3h21.6M996.1 893.5v21.6M991.5 877.1h21.6M1002.3 866.3v21.6M997.7 940.9h21.6M1008.5 930.1v21.6M1004.0 979.0h21.6M1014.8 968.2v21.6M1010.2 930.1h21.6M1021.0 919.3v21.6M1016.4 907.0h21.6M1027.2 896.2v21.6M1022.6 898.8h21.6M1033.4 888.0v21.6M1028.8 858.1h21.6M1039.6 847.3v21.6M1035.0 852.6h21.6M1045.8 841.8v21.6M1041.2 841.8h21.6M1052.0 831.0v21.6M1047.5 856.7h21.6M1058.3 845.9v21.6M1053.7 860.8h21.6M1064.5 850.0v21.6M1059.9 862.1h21.6M1070.7 851.3v21.6M1066.1 852.6h21.6M1076.9 841.8v21.6M1072.3 845.9h21.6M1083.1 835.1v21.6M1078.5 840.4h21.6M1089.3 829.6v21.6M1084.7 866.2h21.6M1095.5 855.4v21.6M1091.0 890.7h21.6M1101.8 879.9v21.6M1097.2 897.5h21.6M1108.0 886.7v21.6M1103.4 845.9h21.6M1114.2 835.1v21.6M1109.6 826.8h21.6M1120.4 816.0v21.6M1115.8 832.3h21.6M1126.6 821.5v21.6M1122.0 858.1h21.6M1132.8 847.3v21.6M1128.3 864.9h21.6M1139.1 854.1v21.6M1134.5 871.7h21.6M1145.3 860.9v21.6M1140.7 889.3h21.6M1151.5 878.5v21.6M1146.9 894.8h21.6M1157.7 884.0v21.6M1153.1 896.1h21.6M1163.9 885.3v21.6M1159.3 893.4h21.6M1170.1 882.6v21.6M1165.5 870.3h21.6M1176.3 859.5v21.6M1171.8 837.7h21.6M1182.6 826.9v21.6M1178.0 814.6h21.6M1188.8 803.8v21.6M1184.2 806.5h21.6M1195.0 795.7v21.6M1190.4 802.4h21.6M1201.2 791.6v21.6M1196.6 798.3h21.6M1207.4 787.5v21.6M1202.8 814.6h21.6M1213.6 803.8v21.6M1209.0 776.6h21.6M1219.8 765.8v21.6M1215.3 754.8h21.6M1226.1 744.0v21.6M1221.5 771.1h21.6M1232.3 760.3v21.6M1227.7 775.2h21.6M1238.5 764.4v21.6M1233.9 758.2h21.6M1244.7 747.4v21.6M1240.1 801.0h21.6M1250.9 790.2v21.6M1246.3 853.3h21.6M1257.1 842.5v21.6M1252.5 878.5h21.6M1263.3 867.7v21.6M1258.8 875.7h21.6M1269.6 864.9v21.6M1265.0 862.1h21.6M1275.8 851.3v21.6M1271.2 886.6h21.6M1282.0 875.8v21.6M1277.4 924.6h21.6M1288.2 913.8v21.6M1283.6 938.2h21.6M1294.4 927.4v21.6M1289.8 932.8h21.6M1300.6 922.0v21.6M1296.1 916.5h21.6M1306.9 905.7v21.6M1302.3 920.6h21.6M1313.1 909.8v21.6M1308.5 898.8h21.6M1319.3 888.0v21.6M1314.7 868.9h21.6M1325.5 858.1v21.6M1320.9 836.3h21.6M1331.7 825.5v21.6M1327.1 803.7h21.6M1337.9 792.9v21.6M1333.3 761.6h21.6M1344.1 750.8v21.6M1339.6 767.1h21.6M1350.4 756.3v21.6M1345.8 848.6h21.6M1356.6 837.8v21.6M1352.0 920.6h21.6M1362.8 909.8v21.6M1358.2 917.8h21.6M1369.0 907.0v21.6M1364.4 916.5h21.6M1375.2 905.7v21.6M1370.6 909.7h21.6M1381.4 898.9v21.6M1376.8 870.3h21.6M1387.6 859.5v21.6M1383.1 786.1h21.6M1393.9 775.3v21.6M1389.3 780.6h21.6M1400.1 769.8v21.6M1395.5 786.1h21.6M1406.3 775.3v21.6M1401.7 773.9h21.6M1412.5 763.1v21.6M1407.9 750.8h21.6M1418.7 740.0v21.6M1414.1 777.9h21.6M1424.9 767.1v21.6M1420.4 821.4h21.6M1431.2 810.6v21.6M1426.6 843.1h21.6M1437.4 832.3v21.6M1432.8 864.9h21.6M1443.6 854.1v21.6M1439.0 859.4h21.6M1449.8 848.6v21.6M1445.2 836.3h21.6M1456.0 825.5v21.6M1451.4 824.1h21.6M1462.2 813.3v21.6M1457.6 811.9h21.6M1468.4 801.1v21.6M1463.9 811.9h21.6M1474.7 801.1v21.6M1470.1 835.0h21.6M1480.9 824.2v21.6M1476.3 844.5h21.6M1487.1 833.7v21.6M1482.5 840.4h21.6M1493.3 829.6v21.6" stroke="#ff7f0e" stroke-width="3.60" fill="none"/>
<path d="M157.1 813.2 L163.3 790.2 L169.5 760.3 L175.7 860.8 L182.0 864.9 L188.2 860.8 L194.4 898.8 L200.6 888.0 L206.8 879.8 L213.0 867.6 L219.2 879.8 L225.5 890.7 L231.7 905.6 L237.9 883.9 L244.1 860.8 L250.3 866.2 L256.5 859.4 L262.8 866.2 L269.0 896.1 L275.2 871.7 L281.4 870.3 L287.6 905.6 L293.8 917.8 L300.0 939.6 L306.3 936.9 L312.5 923.3 L318.7 888.0 L324.9 862.1 L331.1 840.4 L337.3 866.2 L343.5 875.7 L349.8 867.6 L356.0 889.3 L362.2 894.8 L368.4 886.6 L374.6 878.5 L380.8 860.8 L387.1 845.9 L393.3 868.9 L399.5 894.8 L405.7 962.7 L411.9 959.9 L418.1 964.0 L424.3 977.6 L430.6 917.8 L436.8 901.5 L443.0 896.1 L449.2 892.0 L455.4 898.8 L461.6 913.8 L467.8 950.4 L474.1 942.3 L480.3 955.9 L486.5 955.9 L492.7 950.4 L498.9 917.8 L505.1 909.7 L511.3 917.8 L517.6 892.0 L523.8 920.6 L530.0 939.6 L536.2 924.6 L542.4 920.6 L548.6 924.6 L554.9 968.1 L561.1 968.1 L567.3 959.9 L573.5 954.5 L579.7 946.4 L585.9 974.9 L592.1 968.1 L598.4 951.8 L604.6 942.3 L610.8 932.8 L617.0 916.5 L623.2 904.3 L629.4 905.6 L635.6 902.9 L641.9 905.6 L648.1 921.9 L654.3 907.0 L660.5 907.0 L666.7 930.1 L672.9 907.0 L679.2 908.3 L685.4 905.6 L691.6 902.9 L697.8 904.3 L704.0 934.1 L710.2 940.9 L716.4 917.8 L722.7 961.3 L728.9 946.4 L735.1 913.8 L741.3 926.0 L747.5 940.9 L753.7 932.8 L759.9 931.4 L766.2 928.7 L772.4 924.6 L778.6 927.4 L784.8 907.0 L791.0 898.8 L797.2 902.9 L803.4 904.3 L809.7 907.0 L815.9 902.9 L822.1 920.6 L828.3 920.6 L834.5 916.5 L840.7 907.0 L847.0 883.9 L853.2 921.9 L859.4 936.9 L865.6 946.4 L871.8 921.9 L878.0 917.8 L884.2 907.0 L890.5 904.3 L896.7 908.3 L902.9 907.0 L909.1 902.9 L915.3 932.8 L921.5 917.8 L927.7 924.6 L934.0 931.4 L940.2 928.7 L946.4 924.6 L952.6 920.6 L958.8 908.3 L965.0 900.2 L971.2 920.6 L977.5 934.1 L983.7 928.7 L989.9 896.1 L996.1 893.4 L1002.3 882.5 L1008.5 934.1 L1014.8 938.2 L1021.0 909.7 L1027.2 894.8 L1033.4 888.0 L1039.6 883.9 L1045.8 887.3 L1052.0 867.6 L1058.3 907.0 L1064.5 875.7 L1070.7 882.5 L1076.9 883.9 L1083.1 867.6 L1089.3 867.6 L1095.5 886.6 L1101.8 920.6 L1108.0 862.1 L1114.2 864.9 L1120.4 860.8 L1126.6 856.7 L1132.8 866.2 L1139.1 879.8 L1145.3 868.9 L1151.5 852.6 L1157.7 875.7 L1163.9 867.6 L1170.1 875.7 L1176.3 841.8 L1182.6 803.7 L1188.8 806.5 L1195.0 784.7 L1201.2 767.1 L1207.4 814.6 L1213.6 775.2 L1219.8 754.8 L1226.1 772.5 L1232.3 769.8 L1238.5 761.6 L1244.7 756.2 L1250.9 783.4 L1257.1 832.3 L1263.3 870.3 L1269.6 862.1 L1275.8 864.9 L1282.0 870.3 L1288.2 938.2 L1294.4 897.5 L1300.6 898.8 L1306.9 896.1 L1313.1 856.7 L1319.3 868.9 L1325.5 834.3 L1331.7 835.0 L1337.9 826.8 L1344.1 780.6 L1350.4 775.2 L1356.6 807.8 L1362.8 868.9 L1369.0 897.5 L1375.2 900.2 L1381.4 875.7 L1387.6 820.0 L1393.9 760.3 L1400.1 727.7 L1406.3 722.2 L1412.5 708.7 L1418.7 704.6 L1424.9 689.6 L1431.2 749.4 L1437.4 814.6 L1443.6 818.7 L1449.8 824.1 L1456.0 811.9 L1462.2 802.4 L1468.4 799.7 L1474.7 807.8 L1480.9 835.0 L1487.1 858.1 L1493.3 856.7" stroke="#1f77b4" stroke-width="5.40" fill="none" stroke-linejoin="round"/>
<path d="M146.3 813.2h21.6M157.1 802.4v21.6M152.5 790.2h21.6M163.3 779.4v21.6M158.7 760.3h21.6M169.5 749.5v21.6M164.9 860.8h21.6M175.7 850.0v21.6M171.2 864.9h21.6M182.0 854.1v21.6M177.4 860.8h21.6M188.2 850.0v21.6M183.6 898.8h21.6M194.4 888.0v21.6M189.8 888.0h21.6M200.6 877.2v21.6M196.0 879.8h21.6M206.8 869.0v21.6M202.2 867.6h21.6M213.0 856.8v21.6M208.4 879.8h21.6M219.2 869.0v21.6M214.7 890.7h21.6M225.5 879.9v21.6M220.9 905.6h21.6M231.7 894.8v21.6M227.1 883.9h21.6M237.9 873.1v21.6M233.3 860.8h21.6M244.1 850.0v21.6M239.5 866.2h21.6M250.3 855.4v21.6M245.7 859.4h21.6M256.5 848.6v21.6M252.0 866.2h21.6M262.8 855.4v21.6M258.2 896.1h21.6M269.0 885.3v21.6M264.4 871.7h21.6M275.2 860.9v21.6M270.6 870.3h21.6M281.4 859.5v21.6M276.8 905.6h21.6M287.6 894.8v21.6M283.0 917.8h21.6M293.8 907.0v21.6M289.2 939.6h21.6M300.0 928.8v21.6M295.5 936.9h21.6M306.3 926.1v21.6M301.7 923.3h21.6M312.5 912.5v21.6M307.9 888.0h21.6M318.7 877.2v21.6M314.1 862.1h21.6M324.9 851.3v21.6M320.3 840.4h21.6M331.1 829.6v21.6M326.5 866.2h21.6M337.3 855.4v21.6M332.7 875.7h21.6M343.5 864.9v21.6M339.0 867.6h21.6M349.8 856.8v21.6M345.2 889.3h21.6M356.0 878.5v21.6M351.4 894.8h21.6M362.2 884.0v21.6M357.6 886.6h21.6M368.4 875.8v21.6M363.8 878.5h21.6M374.6 867.7v21.6M370.0 860.8h21.6M380.8 850.0v21.6M376.3 845.9h21.6M387.1 835.1v21.6M382.5 868.9h21.6M393.3 858.1v21.6M388.7 894.8h21.6M399.5 884.0v21.6M394.9 962.7h21.6M405.7 951.9v21.6M401.1 959.9h21.6M411.9 949.1v21.6M407.3 964.0h21.6M418.1 953.2v21.6M413.5 977.6h21.6M424.3 966.8v21.6M419.8 917.8h21.6M430.6 907.0v21.6M426.0 901.5h21.6M436.8 890.7v21.6M432.2 896.1h21.6M443.0 885.3v21.6M438.4 892.0h21.6M449.2 881.2v21.6M444.6 898.8h21.6M455.4 888.0v21.6M450.8 913.8h21.6M461.6 903.0v21.6M457.0 950.4h21.6M467.8 939.6v21.6M463.3 942.3h21.6M474.1 931.5v21.6M469.5 955.9h21.6M480.3 945.1v21.6M475.7 955.9h21.6M486.5 945.1v21.6M481.9 950.4h21.6M492.7 939.6v21.6M488.1 917.8h21.6M498.9 907.0v21.6M494.3 909.7h21.6M505.1 898.9v21.6M500.5 917.8h21.6M511.3 907.0v21.6M506.8 892.0h21.6M517.6 881.2v21.6M513.0 920.6h21.6M523.8 909.8v21.6M519.2 939.6h21.6M530.0 928.8v21.6M525.4 924.6h21.6M536.2 913.8v21.6M531.6 920.6h21.6M542.4 909.8v21.6M537.8 924.6h21.6M548.6 913.8v21.6M544.1 968.1h21.6M554.9 957.3v21.6M550.3 968.1h21.6M561.1 957.3v21.6M556.5 959.9h21.6M567.3 949.1v21.6M562.7 954.5h21.6M573.5 943.7v21.6M568.9 946.4h21.6M579.7 935.6v21.6M575.1 974.9h21.6M585.9 964.1v21.6M581.3 968.1h21.6M592.1 957.3v21.6M587.6 951.8h21.6M598.4 941.0v21.6M593.8 942.3h21.6M604.6 931.5v21.6M600.0 932.8h21.6M610.8 922.0v21.6M606.2 916.5h21.6M617.0 905.7v21.6M612.4 904.3h21.6M623.2 893.5v21.6M618.6 905.6h21.6M629.4 894.8v21.6M624.8 902.9h21.6M635.6 892.1v21.6M631.1 905.6h21.6M641.9 894.8v21.6M637.3 921.9h21.6M648.1 911.1v21.6M643.5 907.0h21.6M654.3 896.2v21.6M649.7 907.0h21.6M660.5 896.2v21.6M655.9 930.1h21.6M666.7 919.3v21.6M662.1 907.0h21.6M672.9 896.2v21.6M668.4 908.3h21.6M679.2 897.5v21.6M674.6 905.6h21.6M685.4 894.8v21.6M680.8 902.9h21.6M691.6 892.1v21.6M687.0 904.3h21.6M697.8 893.5v21.6M693.2 934.1h21.6M704.0 923.3v21.6M699.4 940.9h21.6M710.2 930.1v21.6M705.6 917.8h21.6M716.4 907.0v21.6M711.9 961.3h21.6M722.7 950.5v21.6M718.1 946.4h21.6M728.9 935.6v21.6M724.3 913.8h21.6M735.1 903.0v21.6M730.5 926.0h21.6M741.3 915.2v21.6M736.7 940.9h21.6M747.5 930.1v21.6M742.9 932.8h21.6M753.7 922.0v21.6M749.1 931.4h21.6M759.9 920.6v21.6M755.4 928.7h21.6M766.2 917.9v21.6M761.6 924.6h21.6M772.4 913.8v21.6M767.8 927.4h21.6M778.6 916.6v21.6M774.0 907.0h21.6M784.8 896.2v21.6M780.2 898.8h21.6M791.0 888.0v21.6M786.4 902.9h21.6M797.2 892.1v21.6M792.6 904.3h21.6M803.4 893.5v21.6M798.9 907.0h21.6M809.7 896.2v21.6M805.1 902.9h21.6M815.9 892.1v21.6M811.3 920.6h21.6M822.1 909.8v21.6M817.5 920.6h21.6M828.3 909.8v21.6M823.7 916.5h21.6M834.5 905.7v21.6M829.9 907.0h21.6M840.7 896.2v21.6M836.2 883.9h21.6M847.0 873.1v21.6M842.4 921.9h21.6M853.2 911.1v21.6M848.6 936.9h21.6M859.4 926.1v21.6M854.8 946.4h21.6M865.6 935.6v21.6M861.0 921.9h21.6M871.8 911.1v21.6M867.2 917.8h21.6M878.0 907.0v21.6M873.4 907.0h21.6M884.2 896.2v21.6M879.7 904.3h21.6M890.5 893.5v21.6M885.9 908.3h21.6M896.7 897.5v21.6M892.1 907.0h21.6M902.9 896.2v21.6M898.3 902.9h21.6M909.1 892.1v21.6M904.5 932.8h21.6M915.3 922.0v21.6M910.7 917.8h21.6M921.5 907.0v21.6M916.9 924.6h21.6M927.7 913.8v21.6M923.2 931.4h21.6M934.0 920.6v21.6M929.4 928.7h21.6M940.2 917.9v21.6M935.6 924.6h21.6M946.4 913.8v21.6M941.8 920.6h21.6M952.6 909.8v21.6M948.0 908.3h21.6M958.8 897.5v21.6M954.2 900.2h21.6M965.0 889.4v21.6M960.4 920.6h21.6M971.2 909.8v21.6M966.7 934.1h21.6M977.5 923.3v21.6M972.9 928.7h21.6M983.7 917.9v21.6M979.1 896.1h21.6M989.9 885.3v21.6M985.3 893.4h21.6M996.1 882.6v21.6M991.5 882.5h21.6M1002.3 871.7v21.6M997.7 934.1h21.6M1008.5 923.3v21.6M1004.0 938.2h21.6M1014.8 927.4v21.6M1010.2 909.7h21.6M1021.0 898.9v21.6M1016.4 894.8h21.6M1027.2 884.0v21.6M1022.6 888.0h21.6M1033.4 877.2v21.6M1028.8 883.9h21.6M1039.6 873.1v21.6M1035.0 887.3h21.6M1045.8 876.5v21.6M1041.2 867.6h21.6M1052.0 856.8v21.6M1047.5 907.0h21.6M1058.3 896.2v21.6M1053.7 875.7h21.6M1064.5 864.9v21.6M1059.9 882.5h21.6M1070.7 871.7v21.6M1066.1 883.9h21.6M1076.9 873.1v21.6M1072.3 867.6h21.6M1083.1 856.8v21.6M1078.5 867.6h21.6M1089.3 856.8v21.6M1084.7 886.6h21.6M1095.5 875.8v21.6M1091.0 920.6h21.6M1101.8 909.8v21.6M1097.2 862.1h21.6M1108.0 851.3v21.6M1103.4 864.9h21.6M1114.2 854.1v21.6M1109.6 860.8h21.6M1120.4 850.0v21.6M1115.8 856.7h21.6M1126.6 845.9v21.6M1122.0 866.2h21.6M1132.8 855.4v21.6M1128.3 879.8h21.6M1139.1 869.0v21.6M1134.5 868.9h21.6M1145.3 858.1v21.6M1140.7 852.6h21.6M1151.5 841.8v21.6M1146.9 875.7h21.6M1157.7 864.9v21.6M1153.1 867.6h21.6M1163.9 856.8v21.6M1159.3 875.7h21.6M1170.1 864.9v21.6M1165.5 841.8h21.6M1176.3 831.0v21.6M1171.8 803.7h21.6M1182.6 792.9v21.6M1178.0 806.5h21.6M1188.8 795.7v21.6M1184.2 784.7h21.6M1195.0 773.9v21.6M1190.4 767.1h21.6M1201.2 756.3v21.6M1196.6 814.6h21.6M1207.4 803.8v21.6M1202.8 775.2h21.6M1213.6 764.4v21.6M1209.0 754.8h21.6M1219.8 744.0v21.6M1215.3 772.5h21.6M1226.1 761.7v21.6M1221.5 769.8h21.6M1232.3 759.0v21.6M1227.7 761.6h21.6M1238.5 750.8v21.6M1233.9 756.2h21.6M1244.7 745.4v21.6M1240.1 783.4h21.6M1250.9 772.6v21.6M1246.3 832.3h21.6M1257.1 821.5v21.6M1252.5 870.3h21.6M1263.3 859.5v21.6M1258.8 862.1h21.6M1269.6 851.3v21.6M1265.0 864.9h21.6M1275.8 854.1v21.6M1271.2 870.3h21.6M1282.0 859.5v21.6M1277.4 938.2h21.6M1288.2 927.4v21.6M1283.6 897.5h21.6M1294.4 886.7v21.6M1289.8 898.8h21.6M1300.6 888.0v21.6M1296.1 896.1h21.6M1306.9 885.3v21.6M1302.3 856.7h21.6M1313.1 845.9v21.6M1308.5 868.9h21.6M1319.3 858.1v21.6M1314.7 834.3h21.6M1325.5 823.5v21.6M1320.9 835.0h21.6M1331.7 824.2v21.6M1327.1 826.8h21.6M1337.9 816.0v21.6M1333.3 780.6h21.6M1344.1 769.8v21.6M1339.6 775.2h21.6M1350.4 764.4v21.6M1345.8 807.8h21.6M1356.6 797.0v21.6M1352.0 868.9h21.6M1362.8 858.1v21.6M1358.2 897.5h21.6M1369.0 886.7v21.6M1364.4 900.2h21.6M1375.2 889.4v21.6M1370.6 875.7h21.6M1381.4 864.9v21.6M1376.8 820.0h21.6M1387.6 809.2v21.6M1383.1 760.3h21.6M1393.9 749.5v21.6M1389.3 727.7h21.6M1400.1 716.9v21.6M1395.5 722.2h21.6M1406.3 711.4v21.6M1401.7 708.7h21.6M1412.5 697.9v21.6M1407.9 704.6h21.6M1418.7 693.8v21.6M1414.1 689.6h21.6M1424.9 678.8v21.6M1420.4 749.4h21.6M1431.2 738.6v21.6M1426.6 814.6h21.6M1437.4 803.8v21.6M1432.8 818.7h21.6M1443.6 807.9v21.6M1439.0 824.1h21.6M1449.8 813.3v21.6M1445.2 811.9h21.6M1456.0 801.1v21.6M1451.4 802.4h21.6M1462.2 791.6v21.6M1457.6 799.7h21.6M1468.4 788.9v21.6M1463.9 807.8h21.6M1474.7 797.0v21.6M1470.1 835.0h21.6M1480.9 824.2v21.6M1476.3 858.1h21.6M1487.1 847.3v21.6M1482.5 856.7h21.6M1493.3 845.9v21.6" stroke="#1f77b4" stroke-width="3.60" fill="none"/>
</g>
<path d="M256.5 1033.3v12.6M411.9 1033.3v12.6M567.3 1033.3v12.6M722.7 1033.3v12.6M878.0 1033.3v12.6M1033.4 1033.3v12.6M1188.8 1033.3v12.6M1344.1 1033.3v12.6M157.1 965.4h-12.6M157.1 829.5h-12.6M157.1 693.7h-12.6" stroke="#000" stroke-width="2.88" fill="none"/>
<rect x="157.1" y="625.8" width="1336.2" height="407.5" fill="none" stroke="#000" stroke-width="2.88"/>
<text x="256.5" y="1087.1" font-size="36.0" text-anchor="middle">59775</text>
<text x="411.9" y="1087.1" font-size="36.0" text-anchor="middle">59800</text>
<text x="567.3" y="1087.1" font-size="36.0" text-anchor="middle">59825</text>
<text x="722.7" y="1087.1" font-size="36.0" text-anchor="middle">59850</text>
<text x="878.0" y="1087.1" font-size="36.0" text-anchor="middle">59875</text>
<text x="1033.4" y="1087.1" font-size="36.0" text-anchor="middle">59900</text>
<text x="1188.8" y="1087.1" font-size="36.0" text-anchor="middle">59925</text>
<text x="1344.1" y="1087.1" font-size="36.0" text-anchor="middle">59950</text>
<text x="131.3" y="978.7" font-size="36.0" text-anchor="end">30</text>
<text x="131.3" y="842.8" font-size="36.0" text-anchor="end">40</text>
<text x="131.3" y="707.0" font-size="36.0" text-anchor="end">50</text>
<text x="825.6" y="602.8" font-size="43.2" letter-spacing="0.55" text-anchor="middle">UTC-bUTC<tspan font-size="30.2" dy="7.5">GLO</tspan></text>
<text transform="translate(60.2,830.0) rotate(-90)" font-size="36.0" text-anchor="middle">Δ<tspan font-style="italic">t</tspan> / ns</text>
<g clip-path="url(#c2)">
<polygon points="157.1,1353.0 163.3,1354.9 169.5,1352.8 175.7,1354.7 182.0,1354.4 188.2,1357.0 194.4,1358.4 200.6,1355.8 206.8,1344.4 213.0,1325.1 219.2,1321.2 225.5,1317.3 231.7,1314.2 237.9,1312.1 244.1,1313.5 250.3,1331.3 256.5,1317.2 262.8,1311.9 269.0,1314.2 275.2,1312.2 281.4,1311.9 287.6,1311.2 293.8,1310.5 300.0,1306.3 306.3,1304.0 312.5,1302.6 318.7,1301.1 324.9,1304.3 331.1,1307.7 337.3,1312.1 343.5,1330.0 349.8,1328.2 356.0,1321.1 362.2,1322.4 368.4,1328.4 374.6,1332.2 380.8,1337.0 387.1,1343.5 393.3,1342.9 399.5,1340.4 405.7,1336.7 411.9,1334.5 418.1,1346.8 424.3,1352.6 430.6,1354.2 436.8,1356.5 443.0,1355.4 449.2,1358.9 455.4,1353.9 461.6,1355.1 467.8,1357.1 474.1,1354.5 480.3,1348.8 486.5,1353.7 492.7,1350.2 498.9,1343.4 505.1,1340.3 511.3,1342.0 517.6,1345.0 523.8,1328.0 530.0,1311.1 536.2,1299.4 542.4,1309.3 548.6,1316.8 554.9,1322.5 561.1,1322.8 567.3,1313.2 573.5,1323.1 579.7,1328.3 585.9,1323.1 592.1,1324.1 598.4,1325.2 604.6,1334.1 610.8,1370.3 617.0,1354.4 623.2,1355.5 629.4,1358.4 635.6,1363.4 641.9,1366.1 648.1,1356.5 654.3,1341.9 660.5,1332.1 666.7,1354.7 672.9,1381.7 679.2,1395.7 685.4,1370.5 691.6,1351.2 697.8,1331.1 704.0,1364.8 710.2,1380.6 716.4,1361.8 722.7,1359.9 728.9,1362.6 735.1,1372.2 741.3,1368.7 747.5,1369.3 753.7,1366.2 759.9,1349.4 766.2,1329.9 772.4,1340.6 778.6,1352.0 784.8,1341.3 791.0,1328.9 797.2,1339.2 803.4,1350.4 809.7,1363.9 815.9,1365.6 822.1,1362.1 828.3,1362.6 834.5,1376.0 840.7,1376.8 847.0,1375.7 853.2,1361.3 859.4,1342.3 865.6,1325.8 871.8,1321.8 878.0,1321.2 884.2,1322.4 890.5,1323.5 896.7,1336.3 902.9,1362.2 909.1,1358.3 915.3,1356.1 921.5,1357.3 927.7,1359.6 934.0,1362.0 940.2,1362.5 946.4,1354.8 952.6,1352.2 958.8,1348.5 965.0,1345.2 971.2,1343.4 977.5,1344.9 983.7,1348.9 989.9,1361.6 996.1,1365.2 1002.3,1354.4 1008.5,1341.9 1014.8,1337.1 1021.0,1332.4 1027.2,1337.5 1033.4,1342.4 1039.6,1332.6 1045.8,1329.4 1052.0,1330.8 1058.3,1336.9 1064.5,1342.4 1070.7,1345.0 1076.9,1346.7 1083.1,1349.4 1089.3,1343.1 1095.5,1335.2 1101.8,1331.4 1108.0,1332.2 1114.2,1350.0 1120.4,1356.3 1126.6,1348.6 1132.8,1343.2 1139.1,1339.4 1145.3,1337.2 1151.5,1339.0 1157.7,1337.0 1163.9,1338.8 1170.1,1337.7 1176.3,1340.9 1182.6,1334.7 1188.8,1328.7 1195.0,1328.6 1201.2,1337.2 1207.4,1339.0 1213.6,1334.3 1219.8,1324.4 1226.1,1323.1 1232.3,1335.4 1238.5,1341.0 1244.7,1347.9 1250.9,1357.2 1257.1,1360.1 1263.3,1358.6 1269.6,1347.5 1275.8,1343.0 1282.0,1341.2 1288.2,1313.2 1294.4,1307.8 1300.6,1327.0 1306.9,1337.0 1313.1,1336.9 1319.3,1338.1 1325.5,1339.8 1331.7,1337.6 1337.9,1332.3 1344.1,1316.7 1350.4,1311.8 1356.6,1311.6 1362.8,1317.1 1369.0,1320.6 1375.2,1315.3 1381.4,1311.3 1387.6,1306.3 1393.9,1300.4 1400.1,1300.4 1406.3,1298.7 1412.5,1299.1 1418.7,1301.7 1424.9,1323.6 1431.2,1328.0 1437.4,1331.8 1443.6,1336.1 1449.8,1338.4 1456.0,1337.3 1462.2,1367.1 1468.4,1366.3 1474.7,1371.4 1480.9,1370.0 1487.1,1372.4 1493.3,1371.1 1493.3,1465.1 1487.1,1466.0 1480.9,1463.2 1474.7,1464.9 1468.4,1459.4 1462.2,1462.1 1456.0,1432.6 1449.8,1434.7 1443.6,1431.1 1437.4,1426.7 1431.2,1422.0 1424.9,1417.1 1418.7,1396.8 1412.5,1396.4 1406.3,1397.1 1400.1,1396.6 1393.9,1395.2 1387.6,1400.2 1381.4,1405.4 1375.2,1409.6 1369.0,1414.9 1362.8,1412.3 1356.6,1407.1 1350.4,1406.3 1344.1,1410.9 1337.9,1426.1 1331.7,1431.3 1325.5,1433.4 1319.3,1431.2 1313.1,1432.3 1306.9,1433.2 1300.6,1423.8 1294.4,1403.8 1288.2,1408.8 1282.0,1436.2 1275.8,1437.2 1269.6,1440.8 1263.3,1451.7 1257.1,1454.1 1250.9,1451.9 1244.7,1442.9 1238.5,1435.9 1232.3,1430.6 1226.1,1417.7 1219.8,1418.7 1213.6,1428.0 1207.4,1434.6 1201.2,1432.6 1195.0,1423.4 1188.8,1422.4 1182.6,1428.4 1176.3,1435.1 1170.1,1431.6 1163.9,1433.0 1157.7,1431.4 1151.5,1434.2 1145.3,1433.9 1139.1,1436.3 1132.8,1438.7 1126.6,1442.9 1120.4,1450.3 1114.2,1444.8 1108.0,1428.0 1101.8,1426.7 1095.5,1430.6 1089.3,1438.0 1083.1,1446.3 1076.9,1444.0 1070.7,1443.1 1064.5,1438.1 1058.3,1433.4 1052.0,1426.2 1045.8,1425.5 1039.6,1428.2 1033.4,1437.6 1027.2,1432.8 1021.0,1428.5 1014.8,1433.3 1008.5,1438.9 1002.3,1450.9 996.1,1463.3 989.9,1460.2 983.7,1446.9 977.5,1441.3 971.2,1439.0 965.0,1440.5 958.8,1443.6 952.6,1447.4 946.4,1451.4 940.2,1458.2 934.0,1457.9 927.7,1455.2 921.5,1453.1 915.3,1450.1 909.1,1450.1 902.9,1455.8 896.7,1432.0 890.5,1420.3 884.2,1420.1 878.0,1417.9 871.8,1419.8 865.6,1421.1 859.4,1437.4 853.2,1456.4 847.0,1473.4 840.7,1474.6 834.5,1471.8 828.3,1457.7 822.1,1457.9 815.9,1461.6 809.7,1459.0 803.4,1446.3 797.2,1436.3 791.0,1425.5 784.8,1435.7 778.6,1446.5 772.4,1435.8 766.2,1426.7 759.9,1444.9 753.7,1460.2 747.5,1462.0 741.3,1461.0 735.1,1465.2 728.9,1456.8 722.7,1453.9 716.4,1454.7 710.2,1473.5 704.0,1459.0 697.8,1426.7 691.6,1445.2 685.4,1465.0 679.2,1489.3 672.9,1476.5 666.7,1448.7 660.5,1429.3 654.3,1438.4 648.1,1453.0 641.9,1460.1 635.6,1457.2 629.4,1451.1 623.2,1450.2 617.0,1450.0 610.8,1466.6 604.6,1428.7 598.4,1420.3 592.1,1418.6 585.9,1418.9 579.7,1421.9 573.5,1418.7 567.3,1408.1 561.1,1419.0 554.9,1416.0 548.6,1409.6 542.4,1402.3 536.2,1394.5 530.0,1406.4 523.8,1422.3 517.6,1439.9 511.3,1437.5 505.1,1436.1 498.9,1437.5 492.7,1443.6 486.5,1447.8 480.3,1444.0 474.1,1450.0 467.8,1452.5 461.6,1450.4 455.4,1449.8 449.2,1455.4 443.0,1451.8 436.8,1451.8 430.6,1448.7 424.3,1445.7 418.1,1441.9 411.9,1429.6 405.7,1433.3 399.5,1437.1 393.3,1438.9 387.1,1437.4 380.8,1430.7 374.6,1426.0 368.4,1423.0 362.2,1415.0 356.0,1414.3 349.8,1421.1 343.5,1423.4 337.3,1406.6 331.1,1403.6 324.9,1399.7 318.7,1394.9 312.5,1396.2 306.3,1396.8 300.0,1398.9 293.8,1402.8 287.6,1405.6 281.4,1407.5 275.2,1407.9 269.0,1408.0 262.8,1407.1 256.5,1411.0 250.3,1426.5 244.1,1406.3 237.9,1405.2 231.7,1406.5 225.5,1411.3 219.2,1415.3 213.0,1420.7 206.8,1439.1 200.6,1452.1 194.4,1453.3 188.2,1452.7 182.0,1448.9 175.7,1448.3 169.5,1447.1 163.3,1450.6 157.1,1449.3" fill="#c5daee"/>
<path d="M256.5 1191.2V1598.7M411.9 1191.2V1598.7M567.3 1191.2V1598.7M722.7 1191.2V1598.7M878.0 1191.2V1598.7M1033.4 1191.2V1598.7M1188.8 1191.2V1598.7M1344.1 1191.2V1598.7M157.1 1530.8H1493.3M157.1 1395.0H1493.3M157.1 1259.1H1493.3" stroke="#b0b0b0" stroke-width="2.35" fill="none"/>
<path d="M157.1 1401.1 L163.3 1402.4 L169.5 1399.0 L175.7 1400.4 L182.0 1400.4 L188.2 1404.5 L194.4 1406.5 L200.6 1404.5 L206.8 1392.6 L213.0 1373.2 L219.2 1368.5 L225.5 1364.4 L231.7 1360.3 L237.9 1359.6 L244.1 1360.3 L250.3 1379.3 L256.5 1363.7 L262.8 1359.6 L269.0 1361.0 L275.2 1359.6 L281.4 1359.6 L287.6 1358.3 L293.8 1356.9 L300.0 1352.8 L306.3 1351.5 L312.5 1350.1 L318.7 1348.8 L324.9 1352.8 L331.1 1356.2 L337.3 1359.6 L343.5 1375.9 L349.8 1374.6 L356.0 1367.8 L362.2 1369.1 L368.4 1375.9 L374.6 1378.7 L380.8 1383.4 L387.1 1390.2 L393.3 1390.2 L399.5 1388.2 L405.7 1384.1 L411.9 1382.0 L418.1 1394.3 L424.3 1399.0 L430.6 1401.1 L436.8 1404.5 L443.0 1405.1 L449.2 1408.5 L455.4 1402.4 L461.6 1402.4 L467.8 1404.5 L474.1 1402.4 L480.3 1396.3 L486.5 1400.4 L492.7 1396.3 L498.9 1390.2 L505.1 1388.2 L511.3 1390.2 L517.6 1392.2 L523.8 1375.3 L530.0 1358.3 L536.2 1347.4 L542.4 1356.2 L548.6 1363.7 L554.9 1369.1 L561.1 1370.5 L567.3 1360.3 L573.5 1370.5 L579.7 1374.6 L585.9 1370.5 L592.1 1370.5 L598.4 1371.9 L604.6 1380.0 L610.8 1417.4 L617.0 1401.1 L623.2 1402.4 L629.4 1404.5 L635.6 1409.9 L641.9 1412.6 L648.1 1404.5 L654.3 1390.2 L660.5 1381.4 L666.7 1402.4 L672.9 1430.3 L679.2 1443.2 L685.4 1418.0 L691.6 1398.3 L697.8 1379.3 L704.0 1412.6 L710.2 1427.5 L716.4 1408.5 L722.7 1407.2 L728.9 1409.9 L735.1 1418.0 L741.3 1414.0 L747.5 1415.3 L753.7 1414.0 L759.9 1399.0 L766.2 1379.3 L772.4 1388.2 L778.6 1398.3 L784.8 1388.2 L791.0 1377.3 L797.2 1388.2 L803.4 1398.3 L809.7 1411.2 L815.9 1412.6 L822.1 1409.9 L828.3 1409.9 L834.5 1424.2 L840.7 1425.5 L847.0 1424.2 L853.2 1408.5 L859.4 1389.5 L865.6 1373.2 L871.8 1370.5 L878.0 1369.1 L884.2 1371.2 L890.5 1371.9 L896.7 1384.1 L902.9 1409.2 L909.1 1404.5 L915.3 1403.1 L921.5 1405.1 L927.7 1407.2 L934.0 1409.9 L940.2 1409.9 L946.4 1402.4 L952.6 1399.0 L958.8 1396.3 L965.0 1393.6 L971.2 1392.2 L977.5 1393.6 L983.7 1398.3 L989.9 1411.2 L996.1 1414.0 L1002.3 1402.4 L1008.5 1390.2 L1014.8 1386.1 L1021.0 1381.4 L1027.2 1385.4 L1033.4 1389.5 L1039.6 1380.0 L1045.8 1377.3 L1052.0 1378.0 L1058.3 1384.1 L1064.5 1390.2 L1070.7 1394.3 L1076.9 1396.3 L1083.1 1399.0 L1089.3 1392.2 L1095.5 1384.1 L1101.8 1379.3 L1108.0 1379.3 L1114.2 1396.3 L1120.4 1402.4 L1126.6 1396.3 L1132.8 1391.6 L1139.1 1388.2 L1145.3 1385.4 L1151.5 1386.1 L1157.7 1384.1 L1163.9 1386.1 L1170.1 1385.4 L1176.3 1388.2 L1182.6 1381.4 L1188.8 1375.3 L1195.0 1375.9 L1201.2 1384.1 L1207.4 1385.4 L1213.6 1380.0 L1219.8 1371.2 L1226.1 1371.2 L1232.3 1384.1 L1238.5 1390.2 L1244.7 1396.3 L1250.9 1404.5 L1257.1 1406.5 L1263.3 1405.1 L1269.6 1394.3 L1275.8 1390.2 L1282.0 1388.2 L1288.2 1360.3 L1294.4 1354.2 L1300.6 1374.6 L1306.9 1384.1 L1313.1 1384.1 L1319.3 1384.1 L1325.5 1386.1 L1331.7 1384.1 L1337.9 1378.7 L1344.1 1364.4 L1350.4 1359.6 L1356.6 1360.3 L1362.8 1364.4 L1369.0 1367.8 L1375.2 1362.4 L1381.4 1359.6 L1387.6 1354.2 L1393.9 1348.1 L1400.1 1348.1 L1406.3 1347.4 L1412.5 1347.4 L1418.7 1349.4 L1424.9 1371.2 L1431.2 1375.9 L1437.4 1380.0 L1443.6 1384.1 L1449.8 1387.5 L1456.0 1386.1 L1462.2 1416.0 L1468.4 1414.0 L1474.7 1419.4 L1480.9 1417.4 L1487.1 1420.1 L1493.3 1418.0" stroke="#1f77b4" stroke-width="5.40" fill="none" stroke-linejoin="round"/>
<path d="M146.3 1401.1h21.6M157.1 1390.3v21.6M152.5 1402.4h21.6M163.3 1391.6v21.6M158.7 1399.0h21.6M169.5 1388.2v21.6M164.9 1400.4h21.6M175.7 1389.6v21.6M171.2 1400.4h21.6M182.0 1389.6v21.6M177.4 1404.5h21.6M188.2 1393.7v21.6M183.6 1406.5h21.6M194.4 1395.7v21.6M189.8 1404.5h21.6M200.6 1393.7v21.6M196.0 1392.6h21.6M206.8 1381.8v21.6M202.2 1373.2h21.6M213.0 1362.4v21.6M208.4 1368.5h21.6M219.2 1357.7v21.6M214.7 1364.4h21.6M225.5 1353.6v21.6M220.9 1360.3h21.6M231.7 1349.5v21.6M227.1 1359.6h21.6M237.9 1348.8v21.6M233.3 1360.3h21.6M244.1 1349.5v21.6M239.5 1379.3h21.6M250.3 1368.5v21.6M245.7 1363.7h21.6M256.5 1352.9v21.6M252.0 1359.6h21.6M262.8 1348.8v21.6M258.2 1361.0h21.6M269.0 1350.2v21.6M264.4 1359.6h21.6M275.2 1348.8v21.6M270.6 1359.6h21.6M281.4 1348.8v21.6M276.8 1358.3h21.6M287.6 1347.5v21.6M283.0 1356.9h21.6M293.8 1346.1v21.6M289.2 1352.8h21.6M300.0 1342.0v21.6M295.5 1351.5h21.6M306.3 1340.7v21.6M301.7 1350.1h21.6M312.5 1339.3v21.6M307.9 1348.8h21.6M318.7 1338.0v21.6M314.1 1352.8h21.6M324.9 1342.0v21.6M320.3 1356.2h21.6M331.1 1345.4v21.6M326.5 1359.6h21.6M337.3 1348.8v21.6M332.7 1375.9h21.6M343.5 1365.1v21.6M339.0 1374.6h21.6M349.8 1363.8v21.6M345.2 1367.8h21.6M356.0 1357.0v21.6M351.4 1369.1h21.6M362.2 1358.3v21.6M357.6 1375.9h21.6M368.4 1365.1v21.6M363.8 1378.7h21.6M374.6 1367.9v21.6M370.0 1383.4h21.6M380.8 1372.6v21.6M376.3 1390.2h21.6M387.1 1379.4v21.6M382.5 1390.2h21.6M393.3 1379.4v21.6M388.7 1388.2h21.6M399.5 1377.4v21.6M394.9 1384.1h21.6M405.7 1373.3v21.6M401.1 1382.0h21.6M411.9 1371.2v21.6M407.3 1394.3h21.6M418.1 1383.5v21.6M413.5 1399.0h21.6M424.3 1388.2v21.6M419.8 1401.1h21.6M430.6 1390.3v21.6M426.0 1404.5h21.6M436.8 1393.7v21.6M432.2 1405.1h21.6M443.0 1394.3v21.6M438.4 1408.5h21.6M449.2 1397.7v21.6M444.6 1402.4h21.6M455.4 1391.6v21.6M450.8 1402.4h21.6M461.6 1391.6v21.6M457.0 1404.5h21.6M467.8 1393.7v21.6M463.3 1402.4h21.6M474.1 1391.6v21.6M469.5 1396.3h21.6M480.3 1385.5v21.6M475.7 1400.4h21.6M486.5 1389.6v21.6M481.9 1396.3h21.6M492.7 1385.5v21.6M488.1 1390.2h21.6M498.9 1379.4v21.6M494.3 1388.2h21.6M505.1 1377.4v21.6M500.5 1390.2h21.6M511.3 1379.4v21.6M506.8 1392.2h21.6M517.6 1381.4v21.6M513.0 1375.3h21.6M523.8 1364.5v21.6M519.2 1358.3h21.6M530.0 1347.5v21.6M525.4 1347.4h21.6M536.2 1336.6v21.6M531.6 1356.2h21.6M542.4 1345.4v21.6M537.8 1363.7h21.6M548.6 1352.9v21.6M544.1 1369.1h21.6M554.9 1358.3v21.6M550.3 1370.5h21.6M561.1 1359.7v21.6M556.5 1360.3h21.6M567.3 1349.5v21.6M562.7 1370.5h21.6M573.5 1359.7v21.6M568.9 1374.6h21.6M579.7 1363.8v21.6M575.1 1370.5h21.6M585.9 1359.7v21.6M581.3 1370.5h21.6M592.1 1359.7v21.6M587.6 1371.9h21.6M598.4 1361.1v21.6M593.8 1380.0h21.6M604.6 1369.2v21.6M600.0 1417.4h21.6M610.8 1406.6v21.6M606.2 1401.1h21.6M617.0 1390.3v21.6M612.4 1402.4h21.6M623.2 1391.6v21.6M618.6 1404.5h21.6M629.4 1393.7v21.6M624.8 1409.9h21.6M635.6 1399.1v21.6M631.1 1412.6h21.6M641.9 1401.8v21.6M637.3 1404.5h21.6M648.1 1393.7v21.6M643.5 1390.2h21.6M654.3 1379.4v21.6M649.7 1381.4h21.6M660.5 1370.6v21.6M655.9 1402.4h21.6M666.7 1391.6v21.6M662.1 1430.3h21.6M672.9 1419.5v21.6M668.4 1443.2h21.6M679.2 1432.4v21.6M674.6 1418.0h21.6M685.4 1407.2v21.6M680.8 1398.3h21.6M691.6 1387.5v21.6M687.0 1379.3h21.6M697.8 1368.5v21.6M693.2 1412.6h21.6M704.0 1401.8v21.6M699.4 1427.5h21.6M710.2 1416.8v21.6M705.6 1408.5h21.6M716.4 1397.7v21.6M711.9 1407.2h21.6M722.7 1396.4v21.6M718.1 1409.9h21.6M728.9 1399.1v21.6M724.3 1418.0h21.6M735.1 1407.2v21.6M730.5 1414.0h21.6M741.3 1403.2v21.6M736.7 1415.3h21.6M747.5 1404.5v21.6M742.9 1414.0h21.6M753.7 1403.2v21.6M749.1 1399.0h21.6M759.9 1388.2v21.6M755.4 1379.3h21.6M766.2 1368.5v21.6M761.6 1388.2h21.6M772.4 1377.4v21.6M767.8 1398.3h21.6M778.6 1387.5v21.6M774.0 1388.2h21.6M784.8 1377.4v21.6M780.2 1377.3h21.6M791.0 1366.5v21.6M786.4 1388.2h21.6M797.2 1377.4v21.6M792.6 1398.3h21.6M803.4 1387.5v21.6M798.9 1411.2h21.6M809.7 1400.5v21.6M805.1 1412.6h21.6M815.9 1401.8v21.6M811.3 1409.9h21.6M822.1 1399.1v21.6M817.5 1409.9h21.6M828.3 1399.1v21.6M823.7 1424.2h21.6M834.5 1413.4v21.6M829.9 1425.5h21.6M840.7 1414.7v21.6M836.2 1424.2h21.6M847.0 1413.4v21.6M842.4 1408.5h21.6M853.2 1397.7v21.6M848.6 1389.5h21.6M859.4 1378.7v21.6M854.8 1373.2h21.6M865.6 1362.4v21.6M861.0 1370.5h21.6M871.8 1359.7v21.6M867.2 1369.1h21.6M878.0 1358.3v21.6M873.4 1371.2h21.6M884.2 1360.4v21.6M879.7 1371.9h21.6M890.5 1361.1v21.6M885.9 1384.1h21.6M896.7 1373.3v21.6M892.1 1409.2h21.6M902.9 1398.4v21.6M898.3 1404.5h21.6M909.1 1393.7v21.6M904.5 1403.1h21.6M915.3 1392.3v21.6M910.7 1405.1h21.6M921.5 1394.3v21.6M916.9 1407.2h21.6M927.7 1396.4v21.6M923.2 1409.9h21.6M934.0 1399.1v21.6M929.4 1409.9h21.6M940.2 1399.1v21.6M935.6 1402.4h21.6M946.4 1391.6v21.6M941.8 1399.0h21.6M952.6 1388.2v21.6M948.0 1396.3h21.6M958.8 1385.5v21.6M954.2 1393.6h21.6M965.0 1382.8v21.6M960.4 1392.2h21.6M971.2 1381.4v21.6M966.7 1393.6h21.6M977.5 1382.8v21.6M972.9 1398.3h21.6M983.7 1387.5v21.6M979.1 1411.2h21.6M989.9 1400.5v21.6M985.3 1414.0h21.6M996.1 1403.2v21.6M991.5 1402.4h21.6M1002.3 1391.6v21.6M997.7 1390.2h21.6M1008.5 1379.4v21.6M1004.0 1386.1h21.6M1014.8 1375.3v21.6M1010.2 1381.4h21.6M1021.0 1370.6v21.6M1016.4 1385.4h21.6M1027.2 1374.6v21.6M1022.6 1389.5h21.6M1033.4 1378.7v21.6M1028.8 1380.0h21.6M1039.6 1369.2v21.6M1035.0 1377.3h21.6M1045.8 1366.5v21.6M1041.2 1378.0h21.6M1052.0 1367.2v21.6M1047.5 1384.1h21.6M1058.3 1373.3v21.6M1053.7 1390.2h21.6M1064.5 1379.4v21.6M1059.9 1394.3h21.6M1070.7 1383.5v21.6M1066.1 1396.3h21.6M1076.9 1385.5v21.6M1072.3 1399.0h21.6M1083.1 1388.2v21.6M1078.5 1392.2h21.6M1089.3 1381.4v21.6M1084.7 1384.1h21.6M1095.5 1373.3v21.6M1091.0 1379.3h21.6M1101.8 1368.5v21.6M1097.2 1379.3h21.6M1108.0 1368.5v21.6M1103.4 1396.3h21.6M1114.2 1385.5v21.6M1109.6 1402.4h21.6M1120.4 1391.6v21.6M1115.8 1396.3h21.6M1126.6 1385.5v21.6M1122.0 1391.6h21.6M1132.8 1380.8v21.6M1128.3 1388.2h21.6M1139.1 1377.4v21.6M1134.5 1385.4h21.6M1145.3 1374.6v21.6M1140.7 1386.1h21.6M1151.5 1375.3v21.6M1146.9 1384.1h21.6M1157.7 1373.3v21.6M1153.1 1386.1h21.6M1163.9 1375.3v21.6M1159.3 1385.4h21.6M1170.1 1374.6v21.6M1165.5 1388.2h21.6M1176.3 1377.4v21.6M1171.8 1381.4h21.6M1182.6 1370.6v21.6M1178.0 1375.3h21.6M1188.8 1364.5v21.6M1184.2 1375.9h21.6M1195.0 1365.1v21.6M1190.4 1384.1h21.6M1201.2 1373.3v21.6M1196.6 1385.4h21.6M1207.4 1374.6v21.6M1202.8 1380.0h21.6M1213.6 1369.2v21.6M1209.0 1371.2h21.6M1219.8 1360.4v21.6M1215.3 1371.2h21.6M1226.1 1360.4v21.6M1221.5 1384.1h21.6M1232.3 1373.3v21.6M1227.7 1390.2h21.6M1238.5 1379.4v21.6M1233.9 1396.3h21.6M1244.7 1385.5v21.6M1240.1 1404.5h21.6M1250.9 1393.7v21.6M1246.3 1406.5h21.6M1257.1 1395.7v21.6M1252.5 1405.1h21.6M1263.3 1394.3v21.6M1258.8 1394.3h21.6M1269.6 1383.5v21.6M1265.0 1390.2h21.6M1275.8 1379.4v21.6M1271.2 1388.2h21.6M1282.0 1377.4v21.6M1277.4 1360.3h21.6M1288.2 1349.5v21.6M1283.6 1354.2h21.6M1294.4 1343.4v21.6M1289.8 1374.6h21.6M1300.6 1363.8v21.6M1296.1 1384.1h21.6M1306.9 1373.3v21.6M1302.3 1384.1h21.6M1313.1 1373.3v21.6M1308.5 1384.1h21.6M1319.3 1373.3v21.6M1314.7 1386.1h21.6M1325.5 1375.3v21.6M1320.9 1384.1h21.6M1331.7 1373.3v21.6M1327.1 1378.7h21.6M1337.9 1367.9v21.6M1333.3 1364.4h21.6M1344.1 1353.6v21.6M1339.6 1359.6h21.6M1350.4 1348.8v21.6M1345.8 1360.3h21.6M1356.6 1349.5v21.6M1352.0 1364.4h21.6M1362.8 1353.6v21.6M1358.2 1367.8h21.6M1369.0 1357.0v21.6M1364.4 1362.4h21.6M1375.2 1351.6v21.6M1370.6 1359.6h21.6M1381.4 1348.8v21.6M1376.8 1354.2h21.6M1387.6 1343.4v21.6M1383.1 1348.1h21.6M1393.9 1337.3v21.6M1389.3 1348.1h21.6M1400.1 1337.3v21.6M1395.5 1347.4h21.6M1406.3 1336.6v21.6M1401.7 1347.4h21.6M1412.5 1336.6v21.6M1407.9 1349.4h21.6M1418.7 1338.6v21.6M1414.1 1371.2h21.6M1424.9 1360.4v21.6M1420.4 1375.9h21.6M1431.2 1365.1v21.6M1426.6 1380.0h21.6M1437.4 1369.2v21.6M1432.8 1384.1h21.6M1443.6 1373.3v21.6M1439.0 1387.5h21.6M1449.8 1376.7v21.6M1445.2 1386.1h21.6M1456.0 1375.3v21.6M1451.4 1416.0h21.6M1462.2 1405.2v21.6M1457.6 1414.0h21.6M1468.4 1403.2v21.6M1463.9 1419.4h21.6M1474.7 1408.6v21.6M1470.1 1417.4h21.6M1480.9 1406.6v21.6M1476.3 1420.1h21.6M1487.1 1409.3v21.6M1482.5 1418.0h21.6M1493.3 1407.2v21.6" stroke="#1f77b4" stroke-width="3.60" fill="none"/>
</g>
<path d="M256.5 1598.7v12.6M411.9 1598.7v12.6M567.3 1598.7v12.6M722.7 1598.7v12.6M878.0 1598.7v12.6M1033.4 1598.7v12.6M1188.8 1598.7v12.6M1344.1 1598.7v12.6M157.1 1530.8h-12.6M157.1 1395.0h-12.6M157.1 1259.1h-12.6" stroke="#000" stroke-width="2.88" fill="none"/>
<rect x="157.1" y="1191.2" width="1336.2" height="407.5" fill="none" stroke="#000" stroke-width="2.88"/>
<text x="256.5" y="1652.5" font-size="36.0" text-anchor="middle">59775</text>
<text x="411.9" y="1652.5" font-size="36.0" text-anchor="middle">59800</text>
<text x="567.3" y="1652.5" font-size="36.0" text-anchor="middle">59825</text>
<text x="722.7" y="1652.5" font-size="36.0" text-anchor="middle">59850</text>
<text x="878.0" y="1652.5" font-size="36.0" text-anchor="middle">59875</text>
<text x="1033.4" y="1652.5" font-size="36.0" text-anchor="middle">59900</text>
<text x="1188.8" y="1652.5" font-size="36.0" text-anchor="middle">59925</text>
<text x="1344.1" y="1652.5" font-size="36.0" text-anchor="middle">59950</text>
<text x="131.3" y="1544.1" font-size="36.0" text-anchor="end">−10</text>
<text x="131.3" y="1408.2" font-size="36.0" text-anchor="end">0</text>
<text x="131.3" y="1272.4" font-size="36.0" text-anchor="end">10</text>
<text x="825.6" y="1168.2" font-size="43.2" letter-spacing="0.55" text-anchor="middle">UTC-bUTC<tspan font-size="30.2" dy="7.5">GAL</tspan></text>
<text transform="translate(30.2,1395.5) rotate(-90)" font-size="36.0" text-anchor="middle">Δ<tspan font-style="italic">t</tspan> / ns</text>
<g clip-path="url(#c3)">
<polygon points="157.1,1917.2 163.3,1904.2 169.5,1894.3 175.7,1888.3 182.0,1888.2 188.2,1879.9 194.4,1867.3 200.6,1864.7 206.8,1863.2 213.0,1864.3 219.2,1884.6 225.5,1864.0 231.7,1857.0 237.9,1852.8 244.1,1856.1 250.3,1856.8 256.5,1858.9 262.8,1853.5 269.0,1854.4 275.2,1850.0 281.4,1852.9 287.6,1858.6 293.8,1860.0 300.0,1858.1 306.3,1873.3 312.5,1879.9 318.7,1885.4 324.9,1889.2 331.1,1895.3 337.3,1896.9 343.5,1904.2 349.8,1921.1 356.0,1919.6 362.2,1918.7 368.4,1921.0 374.6,1920.7 380.8,1914.6 387.1,1919.3 393.3,1925.9 399.5,1928.3 405.7,1916.0 411.9,1939.9 418.1,1940.0 424.3,1938.4 430.6,1944.7 436.8,1964.7 443.0,1958.2 449.2,1946.9 455.4,1952.6 461.6,1943.8 467.8,1947.3 474.1,1960.1 480.3,1963.6 486.5,1958.3 492.7,1949.5 498.9,1959.1 505.1,1927.9 511.3,1919.7 517.6,1910.8 523.8,1927.0 530.0,1933.5 536.2,1924.0 542.4,1940.6 548.6,1961.0 554.9,1956.2 561.1,1958.5 567.3,1952.8 573.5,1965.3 579.7,1967.3 585.9,1964.2 592.1,1974.4 598.4,1976.6 604.6,1985.9 610.8,1990.1 617.0,1998.9 623.2,1983.6 629.4,1984.9 635.6,1986.2 641.9,1976.5 648.1,1975.8 654.3,1991.6 660.5,1993.6 666.7,1988.1 672.9,1972.8 679.2,1969.9 685.4,1963.1 691.6,1960.2 697.8,1950.3 704.0,1948.9 710.2,1941.9 716.4,1962.4 722.7,1943.8 728.9,1941.2 735.1,1932.0 741.3,1925.0 747.5,1916.6 753.7,1920.1 759.9,1926.1 766.2,1923.0 772.4,1918.7 778.6,1916.6 784.8,1910.8 791.0,1931.1 797.2,1933.8 803.4,1936.5 809.7,1943.1 815.9,1946.2 822.1,1953.4 828.3,1953.8 834.5,1953.0 840.7,1949.0 847.0,1947.1 853.2,1959.6 859.4,1964.6 865.6,1989.5 871.8,1977.4 878.0,1965.2 884.2,1971.7 890.5,1972.4 896.7,1967.1 902.9,1958.1 909.1,1937.8 915.3,1969.5 921.5,1957.0 927.7,1940.2 934.0,1937.4 940.2,1940.6 946.4,1938.9 952.6,1943.0 958.8,1943.1 965.0,1937.0 971.2,1963.6 977.5,1954.0 983.7,1973.4 989.9,1976.0 996.1,1969.9 1002.3,1952.0 1008.5,1938.1 1014.8,1946.2 1021.0,1960.3 1027.2,1949.9 1033.4,1934.7 1039.6,1944.2 1045.8,1947.1 1052.0,1953.8 1058.3,1946.6 1064.5,1929.6 1070.7,1951.5 1076.9,1962.5 1083.1,1963.5 1089.3,1952.4 1095.5,1943.0 1101.8,1955.4 1108.0,2011.2 1114.2,1954.3 1120.4,2004.0 1126.6,1969.2 1132.8,1970.3 1139.1,1980.4 1145.3,1959.5 1151.5,1960.2 1157.7,1964.1 1163.9,1963.1 1170.1,1969.0 1176.3,1974.3 1182.6,1965.7 1188.8,1965.8 1195.0,1969.2 1201.2,1961.7 1207.4,1954.9 1213.6,1947.0 1219.8,1952.0 1226.1,1953.8 1232.3,1953.7 1238.5,1955.1 1244.7,1953.3 1250.9,1963.5 1257.1,1970.3 1263.3,1976.6 1269.6,1981.6 1275.8,1992.0 1282.0,1978.9 1288.2,1974.9 1294.4,1977.1 1300.6,1985.7 1306.9,1986.1 1313.1,1993.4 1319.3,1989.0 1325.5,1981.7 1331.7,1973.7 1337.9,2012.8 1344.1,1949.7 1350.4,1965.7 1356.6,1952.4 1362.8,1960.8 1369.0,1955.9 1375.2,1957.0 1381.4,1977.1 1387.6,1934.5 1393.9,1943.4 1400.1,1904.5 1406.3,1907.5 1412.5,1910.2 1418.7,1907.9 1424.9,1908.5 1431.2,1908.5 1437.4,1896.5 1443.6,1896.8 1449.8,1893.5 1456.0,1903.6 1462.2,1912.1 1468.4,1916.5 1474.7,1901.7 1480.9,1907.5 1487.1,1926.6 1493.3,1908.8 1493.3,2018.8 1487.1,2035.3 1480.9,2017.9 1474.7,2013.4 1468.4,2030.9 1462.2,2022.4 1456.0,2010.7 1449.8,1998.2 1443.6,2003.5 1437.4,2003.6 1431.2,2017.7 1424.9,2017.8 1418.7,2016.4 1412.5,2023.1 1406.3,2021.8 1400.1,2021.7 1393.9,2056.2 1387.6,2045.2 1381.4,2080.1 1375.2,2059.8 1369.0,2056.9 1362.8,2063.3 1356.6,2059.7 1350.4,2075.7 1344.1,2061.8 1337.9,2122.8 1331.7,2082.7 1325.5,2091.6 1319.3,2093.6 1313.1,2102.5 1306.9,2097.1 1300.6,2101.8 1294.4,2088.5 1288.2,2085.9 1282.0,2089.7 1275.8,2101.7 1269.6,2092.6 1263.3,2085.5 1257.1,2083.5 1250.9,2070.4 1244.7,2062.8 1238.5,2061.4 1232.3,2064.2 1226.1,2062.7 1219.8,2062.1 1213.6,2057.6 1207.4,2062.6 1201.2,2068.0 1195.0,2073.4 1188.8,2074.9 1182.6,2079.0 1176.3,2088.3 1170.1,2082.0 1163.9,2071.6 1157.7,2071.0 1151.5,2064.1 1145.3,2068.0 1139.1,2092.6 1132.8,2081.9 1126.6,2078.2 1120.4,2109.4 1114.2,2060.8 1108.0,2117.9 1101.8,2061.7 1095.5,2048.5 1089.3,2057.8 1083.1,2068.5 1076.9,2069.6 1070.7,2054.9 1064.5,2036.4 1058.3,2050.5 1052.0,2061.4 1045.8,2053.2 1039.6,2052.8 1033.4,2041.5 1027.2,2057.0 1021.0,2065.5 1014.8,2052.5 1008.5,2047.2 1002.3,2061.8 996.1,2079.9 989.9,2082.2 983.7,2079.6 977.5,2060.4 971.2,2068.0 965.0,2043.4 958.8,2047.5 952.6,2051.1 946.4,2047.7 940.2,2052.1 934.0,2049.0 927.7,2049.5 921.5,2066.6 915.3,2081.2 909.1,2050.3 902.9,2067.3 896.7,2074.1 890.5,2078.3 884.2,2081.1 878.0,2072.1 871.8,2087.6 865.6,2099.4 859.4,2074.5 853.2,2067.2 847.0,2054.0 840.7,2056.4 834.5,2060.4 828.3,2057.9 822.1,2059.3 815.9,2052.3 809.7,2052.8 803.4,2042.9 797.2,2041.1 791.0,2034.9 784.8,2015.6 778.6,2018.9 772.4,2022.1 766.2,2024.2 759.9,2027.4 753.7,2024.5 747.5,2025.6 741.3,2031.7 735.1,2036.7 728.9,2044.4 722.7,2050.3 716.4,2068.0 710.2,2048.7 704.0,2055.5 697.8,2061.6 691.6,2071.6 685.4,2073.7 679.2,2075.9 672.9,2080.1 666.7,2095.9 660.5,2106.1 654.3,2104.1 648.1,2092.3 641.9,2086.0 635.6,2095.5 629.4,2089.6 623.2,2091.6 617.0,2103.6 610.8,2095.9 604.6,2092.7 598.4,2084.5 592.1,2081.7 585.9,2068.0 579.7,2074.6 573.5,2075.8 567.3,2069.9 561.1,2068.8 554.9,2063.8 548.6,2065.1 542.4,2049.2 536.2,2030.8 530.0,2042.1 523.8,2037.0 517.6,2019.8 511.3,2025.1 505.1,2028.7 498.9,2064.0 492.7,2055.9 486.5,2067.2 480.3,2068.8 474.1,2065.9 467.8,2054.9 461.6,2054.8 455.4,2062.8 449.2,2054.2 443.0,2063.4 436.8,2069.8 430.6,2053.1 424.3,2051.2 418.1,2053.4 411.9,2054.0 405.7,2026.2 399.5,2040.1 393.3,2038.8 387.1,2036.4 380.8,2030.8 374.6,2031.6 368.4,2027.6 362.2,2023.2 356.0,2025.1 349.8,2029.5 343.5,2015.1 337.3,2008.8 331.1,2005.2 324.9,2000.1 318.7,1993.6 312.5,1990.5 306.3,1981.5 300.0,1969.3 293.8,1969.9 287.6,1969.7 281.4,1963.5 275.2,1963.6 269.0,1966.0 262.8,1962.9 256.5,1962.1 250.3,1961.8 244.1,1963.9 237.9,1964.6 231.7,1969.2 225.5,1974.5 219.2,1994.9 213.0,1971.8 206.8,1974.4 200.6,1974.9 194.4,1977.2 188.2,1986.3 182.0,1992.3 175.7,1997.8 169.5,2003.7 163.3,2014.2 157.1,2020.5" fill="#c5daee"/>
<path d="M256.5 1756.8V2164.3M411.9 1756.8V2164.3M567.3 1756.8V2164.3M722.7 1756.8V2164.3M878.0 1756.8V2164.3M1033.4 1756.8V2164.3M1188.8 1756.8V2164.3M1344.1 1756.8V2164.3M157.1 2123.6H1493.3M157.1 1987.7H1493.3M157.1 1851.9H1493.3" stroke="#b0b0b0" stroke-width="2.35" fill="none"/>
<path d="M157.1 1972.1 L163.3 1961.9 L169.5 1949.7 L175.7 1941.5 L182.0 1938.1 L188.2 1930.0 L194.4 1919.8 L200.6 1917.1 L206.8 1917.1 L213.0 1915.7 L219.2 1936.8 L225.5 1915.7 L231.7 1911.6 L237.9 1908.9 L244.1 1910.3 L250.3 1908.3 L256.5 1908.3 L262.8 1906.9 L269.0 1910.3 L275.2 1908.9 L281.4 1911.6 L287.6 1917.1 L293.8 1919.1 L300.0 1917.1 L306.3 1930.0 L312.5 1936.1 L318.7 1940.2 L324.9 1946.3 L331.1 1951.0 L337.3 1952.4 L343.5 1957.8 L349.8 1974.1 L356.0 1972.1 L362.2 1970.1 L368.4 1974.1 L374.6 1976.2 L380.8 1974.1 L387.1 1978.2 L393.3 1983.6 L399.5 1985.0 L405.7 1970.1 L411.9 1994.5 L418.1 1993.1 L424.3 1991.8 L430.6 1995.9 L436.8 2016.2 L443.0 2010.1 L449.2 1999.9 L455.4 2006.1 L461.6 1997.9 L467.8 1999.9 L474.1 2012.2 L480.3 2014.9 L486.5 2010.1 L492.7 1999.9 L498.9 2010.1 L505.1 1978.2 L511.3 1972.1 L517.6 1966.0 L523.8 1983.6 L530.0 1990.4 L536.2 1980.9 L542.4 1995.9 L548.6 2013.5 L554.9 2008.1 L561.1 2014.2 L567.3 2010.8 L573.5 2020.3 L579.7 2020.3 L585.9 2018.3 L592.1 2031.9 L598.4 2035.9 L604.6 2042.0 L610.8 2046.1 L617.0 2052.9 L623.2 2040.0 L629.4 2038.0 L635.6 2042.0 L641.9 2031.9 L648.1 2033.9 L654.3 2046.1 L660.5 2048.2 L666.7 2042.0 L672.9 2028.5 L679.2 2024.4 L685.4 2018.3 L691.6 2014.2 L697.8 2004.0 L704.0 1999.9 L710.2 1994.5 L716.4 2014.2 L722.7 1995.9 L728.9 1990.4 L735.1 1983.6 L741.3 1978.2 L747.5 1972.1 L753.7 1972.8 L759.9 1978.2 L766.2 1974.1 L772.4 1970.1 L778.6 1966.0 L784.8 1963.3 L791.0 1983.6 L797.2 1987.7 L803.4 1987.0 L809.7 1995.9 L815.9 1997.9 L822.1 2006.1 L828.3 2005.4 L834.5 2008.1 L840.7 2002.0 L847.0 1999.9 L853.2 2010.8 L859.4 2020.3 L865.6 2046.1 L871.8 2033.9 L878.0 2020.3 L884.2 2025.8 L890.5 2024.4 L896.7 2018.3 L902.9 2012.2 L909.1 1995.2 L915.3 2025.8 L921.5 2012.2 L927.7 1995.9 L934.0 1993.1 L940.2 1995.9 L946.4 1991.8 L952.6 1995.9 L958.8 1994.5 L965.0 1987.7 L971.2 2014.9 L977.5 2004.0 L983.7 2024.4 L989.9 2025.8 L996.1 2023.0 L1002.3 2006.1 L1008.5 1991.8 L1014.8 1999.9 L1021.0 2012.2 L1027.2 2004.0 L1033.4 1987.7 L1039.6 1997.9 L1045.8 1999.9 L1052.0 2006.1 L1058.3 1997.9 L1064.5 1983.6 L1070.7 2004.0 L1076.9 2018.3 L1083.1 2016.2 L1089.3 2006.1 L1095.5 1994.5 L1101.8 2006.1 L1108.0 2061.1 L1114.2 2004.0 L1120.4 2055.6 L1126.6 2024.4 L1132.8 2028.5 L1139.1 2036.6 L1145.3 2014.2 L1151.5 2010.8 L1157.7 2018.3 L1163.9 2016.2 L1170.1 2025.8 L1176.3 2029.8 L1182.6 2020.3 L1188.8 2016.2 L1195.0 2018.3 L1201.2 2014.2 L1207.4 2008.1 L1213.6 2001.3 L1219.8 2004.0 L1226.1 2006.7 L1232.3 2008.1 L1238.5 2008.8 L1244.7 2008.8 L1250.9 2018.3 L1257.1 2028.5 L1263.3 2033.9 L1269.6 2040.0 L1275.8 2048.2 L1282.0 2035.3 L1288.2 2029.8 L1294.4 2033.9 L1300.6 2044.1 L1306.9 2042.0 L1313.1 2046.1 L1319.3 2040.0 L1325.5 2035.9 L1331.7 2029.8 L1337.9 2067.9 L1344.1 2005.4 L1350.4 2020.3 L1356.6 2006.1 L1362.8 2010.1 L1369.0 2004.0 L1375.2 2008.1 L1381.4 2028.5 L1387.6 1989.1 L1393.9 1998.6 L1400.1 1963.9 L1406.3 1967.3 L1412.5 1968.0 L1418.7 1963.9 L1424.9 1964.6 L1431.2 1966.0 L1437.4 1952.4 L1443.6 1952.4 L1449.8 1946.3 L1456.0 1956.5 L1462.2 1966.0 L1468.4 1972.1 L1474.7 1957.2 L1480.9 1961.9 L1487.1 1980.9 L1493.3 1961.9" stroke="#1f77b4" stroke-width="5.40" fill="none" stroke-linejoin="round"/>
<path d="M146.3 1972.1h21.6M157.1 1961.3v21.6M152.5 1961.9h21.6M163.3 1951.1v21.6M158.7 1949.7h21.6M169.5 1938.9v21.6M164.9 1941.5h21.6M175.7 1930.7v21.6M171.2 1938.1h21.6M182.0 1927.3v21.6M177.4 1930.0h21.6M188.2 1919.2v21.6M183.6 1919.8h21.6M194.4 1909.0v21.6M189.8 1917.1h21.6M200.6 1906.3v21.6M196.0 1917.1h21.6M206.8 1906.3v21.6M202.2 1915.7h21.6M213.0 1904.9v21.6M208.4 1936.8h21.6M219.2 1926.0v21.6M214.7 1915.7h21.6M225.5 1904.9v21.6M220.9 1911.6h21.6M231.7 1900.8v21.6M227.1 1908.9h21.6M237.9 1898.1v21.6M233.3 1910.3h21.6M244.1 1899.5v21.6M239.5 1908.3h21.6M250.3 1897.5v21.6M245.7 1908.3h21.6M256.5 1897.5v21.6M252.0 1906.9h21.6M262.8 1896.1v21.6M258.2 1910.3h21.6M269.0 1899.5v21.6M264.4 1908.9h21.6M275.2 1898.1v21.6M270.6 1911.6h21.6M281.4 1900.8v21.6M276.8 1917.1h21.6M287.6 1906.3v21.6M283.0 1919.1h21.6M293.8 1908.3v21.6M289.2 1917.1h21.6M300.0 1906.3v21.6M295.5 1930.0h21.6M306.3 1919.2v21.6M301.7 1936.1h21.6M312.5 1925.3v21.6M307.9 1940.2h21.6M318.7 1929.4v21.6M314.1 1946.3h21.6M324.9 1935.5v21.6M320.3 1951.0h21.6M331.1 1940.2v21.6M326.5 1952.4h21.6M337.3 1941.6v21.6M332.7 1957.8h21.6M343.5 1947.0v21.6M339.0 1974.1h21.6M349.8 1963.3v21.6M345.2 1972.1h21.6M356.0 1961.3v21.6M351.4 1970.1h21.6M362.2 1959.3v21.6M357.6 1974.1h21.6M368.4 1963.3v21.6M363.8 1976.2h21.6M374.6 1965.4v21.6M370.0 1974.1h21.6M380.8 1963.3v21.6M376.3 1978.2h21.6M387.1 1967.4v21.6M382.5 1983.6h21.6M393.3 1972.8v21.6M388.7 1985.0h21.6M399.5 1974.2v21.6M394.9 1970.1h21.6M405.7 1959.3v21.6M401.1 1994.5h21.6M411.9 1983.7v21.6M407.3 1993.1h21.6M418.1 1982.3v21.6M413.5 1991.8h21.6M424.3 1981.0v21.6M419.8 1995.9h21.6M430.6 1985.1v21.6M426.0 2016.2h21.6M436.8 2005.4v21.6M432.2 2010.1h21.6M443.0 1999.3v21.6M438.4 1999.9h21.6M449.2 1989.1v21.6M444.6 2006.1h21.6M455.4 1995.3v21.6M450.8 1997.9h21.6M461.6 1987.1v21.6M457.0 1999.9h21.6M467.8 1989.1v21.6M463.3 2012.2h21.6M474.1 2001.4v21.6M469.5 2014.9h21.6M480.3 2004.1v21.6M475.7 2010.1h21.6M486.5 1999.3v21.6M481.9 1999.9h21.6M492.7 1989.1v21.6M488.1 2010.1h21.6M498.9 1999.3v21.6M494.3 1978.2h21.6M505.1 1967.4v21.6M500.5 1972.1h21.6M511.3 1961.3v21.6M506.8 1966.0h21.6M517.6 1955.2v21.6M513.0 1983.6h21.6M523.8 1972.8v21.6M519.2 1990.4h21.6M530.0 1979.6v21.6M525.4 1980.9h21.6M536.2 1970.1v21.6M531.6 1995.9h21.6M542.4 1985.1v21.6M537.8 2013.5h21.6M548.6 2002.7v21.6M544.1 2008.1h21.6M554.9 1997.3v21.6M550.3 2014.2h21.6M561.1 2003.4v21.6M556.5 2010.8h21.6M567.3 2000.0v21.6M562.7 2020.3h21.6M573.5 2009.5v21.6M568.9 2020.3h21.6M579.7 2009.5v21.6M575.1 2018.3h21.6M585.9 2007.5v21.6M581.3 2031.9h21.6M592.1 2021.1v21.6M587.6 2035.9h21.6M598.4 2025.1v21.6M593.8 2042.0h21.6M604.6 2031.2v21.6M600.0 2046.1h21.6M610.8 2035.3v21.6M606.2 2052.9h21.6M617.0 2042.1v21.6M612.4 2040.0h21.6M623.2 2029.2v21.6M618.6 2038.0h21.6M629.4 2027.2v21.6M624.8 2042.0h21.6M635.6 2031.2v21.6M631.1 2031.9h21.6M641.9 2021.1v21.6M637.3 2033.9h21.6M648.1 2023.1v21.6M643.5 2046.1h21.6M654.3 2035.3v21.6M649.7 2048.2h21.6M660.5 2037.4v21.6M655.9 2042.0h21.6M666.7 2031.2v21.6M662.1 2028.5h21.6M672.9 2017.7v21.6M668.4 2024.4h21.6M679.2 2013.6v21.6M674.6 2018.3h21.6M685.4 2007.5v21.6M680.8 2014.2h21.6M691.6 2003.4v21.6M687.0 2004.0h21.6M697.8 1993.2v21.6M693.2 1999.9h21.6M704.0 1989.1v21.6M699.4 1994.5h21.6M710.2 1983.7v21.6M705.6 2014.2h21.6M716.4 2003.4v21.6M711.9 1995.9h21.6M722.7 1985.1v21.6M718.1 1990.4h21.6M728.9 1979.6v21.6M724.3 1983.6h21.6M735.1 1972.8v21.6M730.5 1978.2h21.6M741.3 1967.4v21.6M736.7 1972.1h21.6M747.5 1961.3v21.6M742.9 1972.8h21.6M753.7 1962.0v21.6M749.1 1978.2h21.6M759.9 1967.4v21.6M755.4 1974.1h21.6M766.2 1963.3v21.6M761.6 1970.1h21.6M772.4 1959.3v21.6M767.8 1966.0h21.6M778.6 1955.2v21.6M774.0 1963.3h21.6M784.8 1952.5v21.6M780.2 1983.6h21.6M791.0 1972.8v21.6M786.4 1987.7h21.6M797.2 1976.9v21.6M792.6 1987.0h21.6M803.4 1976.2v21.6M798.9 1995.9h21.6M809.7 1985.1v21.6M805.1 1997.9h21.6M815.9 1987.1v21.6M811.3 2006.1h21.6M822.1 1995.3v21.6M817.5 2005.4h21.6M828.3 1994.6v21.6M823.7 2008.1h21.6M834.5 1997.3v21.6M829.9 2002.0h21.6M840.7 1991.2v21.6M836.2 1999.9h21.6M847.0 1989.1v21.6M842.4 2010.8h21.6M853.2 2000.0v21.6M848.6 2020.3h21.6M859.4 2009.5v21.6M854.8 2046.1h21.6M865.6 2035.3v21.6M861.0 2033.9h21.6M871.8 2023.1v21.6M867.2 2020.3h21.6M878.0 2009.5v21.6M873.4 2025.8h21.6M884.2 2015.0v21.6M879.7 2024.4h21.6M890.5 2013.6v21.6M885.9 2018.3h21.6M896.7 2007.5v21.6M892.1 2012.2h21.6M902.9 2001.4v21.6M898.3 1995.2h21.6M909.1 1984.4v21.6M904.5 2025.8h21.6M915.3 2015.0v21.6M910.7 2012.2h21.6M921.5 2001.4v21.6M916.9 1995.9h21.6M927.7 1985.1v21.6M923.2 1993.1h21.6M934.0 1982.3v21.6M929.4 1995.9h21.6M940.2 1985.1v21.6M935.6 1991.8h21.6M946.4 1981.0v21.6M941.8 1995.9h21.6M952.6 1985.1v21.6M948.0 1994.5h21.6M958.8 1983.7v21.6M954.2 1987.7h21.6M965.0 1976.9v21.6M960.4 2014.9h21.6M971.2 2004.1v21.6M966.7 2004.0h21.6M977.5 1993.2v21.6M972.9 2024.4h21.6M983.7 2013.6v21.6M979.1 2025.8h21.6M989.9 2015.0v21.6M985.3 2023.0h21.6M996.1 2012.2v21.6M991.5 2006.1h21.6M1002.3 1995.3v21.6M997.7 1991.8h21.6M1008.5 1981.0v21.6M1004.0 1999.9h21.6M1014.8 1989.1v21.6M1010.2 2012.2h21.6M1021.0 2001.4v21.6M1016.4 2004.0h21.6M1027.2 1993.2v21.6M1022.6 1987.7h21.6M1033.4 1976.9v21.6M1028.8 1997.9h21.6M1039.6 1987.1v21.6M1035.0 1999.9h21.6M1045.8 1989.1v21.6M1041.2 2006.1h21.6M1052.0 1995.3v21.6M1047.5 1997.9h21.6M1058.3 1987.1v21.6M1053.7 1983.6h21.6M1064.5 1972.8v21.6M1059.9 2004.0h21.6M1070.7 1993.2v21.6M1066.1 2018.3h21.6M1076.9 2007.5v21.6M1072.3 2016.2h21.6M1083.1 2005.4v21.6M1078.5 2006.1h21.6M1089.3 1995.3v21.6M1084.7 1994.5h21.6M1095.5 1983.7v21.6M1091.0 2006.1h21.6M1101.8 1995.3v21.6M1097.2 2061.1h21.6M1108.0 2050.3v21.6M1103.4 2004.0h21.6M1114.2 1993.2v21.6M1109.6 2055.6h21.6M1120.4 2044.8v21.6M1115.8 2024.4h21.6M1126.6 2013.6v21.6M1122.0 2028.5h21.6M1132.8 2017.7v21.6M1128.3 2036.6h21.6M1139.1 2025.8v21.6M1134.5 2014.2h21.6M1145.3 2003.4v21.6M1140.7 2010.8h21.6M1151.5 2000.0v21.6M1146.9 2018.3h21.6M1157.7 2007.5v21.6M1153.1 2016.2h21.6M1163.9 2005.4v21.6M1159.3 2025.8h21.6M1170.1 2015.0v21.6M1165.5 2029.8h21.6M1176.3 2019.0v21.6M1171.8 2020.3h21.6M1182.6 2009.5v21.6M1178.0 2016.2h21.6M1188.8 2005.4v21.6M1184.2 2018.3h21.6M1195.0 2007.5v21.6M1190.4 2014.2h21.6M1201.2 2003.4v21.6M1196.6 2008.1h21.6M1207.4 1997.3v21.6M1202.8 2001.3h21.6M1213.6 1990.5v21.6M1209.0 2004.0h21.6M1219.8 1993.2v21.6M1215.3 2006.7h21.6M1226.1 1995.9v21.6M1221.5 2008.1h21.6M1232.3 1997.3v21.6M1227.7 2008.8h21.6M1238.5 1998.0v21.6M1233.9 2008.8h21.6M1244.7 1998.0v21.6M1240.1 2018.3h21.6M1250.9 2007.5v21.6M1246.3 2028.5h21.6M1257.1 2017.7v21.6M1252.5 2033.9h21.6M1263.3 2023.1v21.6M1258.8 2040.0h21.6M1269.6 2029.2v21.6M1265.0 2048.2h21.6M1275.8 2037.4v21.6M1271.2 2035.3h21.6M1282.0 2024.5v21.6M1277.4 2029.8h21.6M1288.2 2019.0v21.6M1283.6 2033.9h21.6M1294.4 2023.1v21.6M1289.8 2044.1h21.6M1300.6 2033.3v21.6M1296.1 2042.0h21.6M1306.9 2031.2v21.6M1302.3 2046.1h21.6M1313.1 2035.3v21.6M1308.5 2040.0h21.6M1319.3 2029.2v21.6M1314.7 2035.9h21.6M1325.5 2025.1v21.6M1320.9 2029.8h21.6M1331.7 2019.0v21.6M1327.1 2067.9h21.6M1337.9 2057.1v21.6M1333.3 2005.4h21.6M1344.1 1994.6v21.6M1339.6 2020.3h21.6M1350.4 2009.5v21.6M1345.8 2006.1h21.6M1356.6 1995.3v21.6M1352.0 2010.1h21.6M1362.8 1999.3v21.6M1358.2 2004.0h21.6M1369.0 1993.2v21.6M1364.4 2008.1h21.6M1375.2 1997.3v21.6M1370.6 2028.5h21.6M1381.4 2017.7v21.6M1376.8 1989.1h21.6M1387.6 1978.3v21.6M1383.1 1998.6h21.6M1393.9 1987.8v21.6M1389.3 1963.9h21.6M1400.1 1953.1v21.6M1395.5 1967.3h21.6M1406.3 1956.5v21.6M1401.7 1968.0h21.6M1412.5 1957.2v21.6M1407.9 1963.9h21.6M1418.7 1953.1v21.6M1414.1 1964.6h21.6M1424.9 1953.8v21.6M1420.4 1966.0h21.6M1431.2 1955.2v21.6M1426.6 1952.4h21.6M1437.4 1941.6v21.6M1432.8 1952.4h21.6M1443.6 1941.6v21.6M1439.0 1946.3h21.6M1449.8 1935.5v21.6M1445.2 1956.5h21.6M1456.0 1945.7v21.6M1451.4 1966.0h21.6M1462.2 1955.2v21.6M1457.6 1972.1h21.6M1468.4 1961.3v21.6M1463.9 1957.2h21.6M1474.7 1946.4v21.6M1470.1 1961.9h21.6M1480.9 1951.1v21.6M1476.3 1980.9h21.6M1487.1 1970.1v21.6M1482.5 1961.9h21.6M1493.3 1951.1v21.6" stroke="#1f77b4" stroke-width="3.60" fill="none"/>
</g>
<path d="M256.5 2164.3v12.6M411.9 2164.3v12.6M567.3 2164.3v12.6M722.7 2164.3v12.6M878.0 2164.3v12.6M1033.4 2164.3v12.6M1188.8 2164.3v12.6M1344.1 2164.3v12.6M157.1 2123.6h-12.6M157.1 1987.7h-12.6M157.1 1851.9h-12.6" stroke="#000" stroke-width="2.88" fill="none"/>
<rect x="157.1" y="1756.8" width="1336.2" height="407.5" fill="none" stroke="#000" stroke-width="2.88"/>
<text x="256.5" y="2218.1" font-size="36.0" text-anchor="middle">59775</text>
<text x="411.9" y="2218.1" font-size="36.0" text-anchor="middle">59800</text>
<text x="567.3" y="2218.1" font-size="36.0" text-anchor="middle">59825</text>
<text x="722.7" y="2218.1" font-size="36.0" text-anchor="middle">59850</text>
<text x="878.0" y="2218.1" font-size="36.0" text-anchor="middle">59875</text>
<text x="1033.4" y="2218.1" font-size="36.0" text-anchor="middle">59900</text>
<text x="1188.8" y="2218.1" font-size="36.0" text-anchor="middle">59925</text>
<text x="1344.1" y="2218.1" font-size="36.0" text-anchor="middle">59950</text>
<text x="131.3" y="2136.9" font-size="36.0" text-anchor="end">0</text>
<text x="131.3" y="2001.0" font-size="36.0" text-anchor="end">10</text>
<text x="131.3" y="1865.2" font-size="36.0" text-anchor="end">20</text>
<text x="825.6" y="1733.8" font-size="43.2" letter-spacing="0.55" text-anchor="middle">UTC-bUTC<tspan font-size="30.2" dy="7.5">BDS</tspan></text>
<text transform="translate(60.2,1961.0) rotate(-90)" font-size="36.0" text-anchor="middle">Δ<tspan font-style="italic">t</tspan> / ns</text>
<text x="825.2" y="2269.5" font-size="36" text-anchor="middle">MJD</text>
<rect x="1103.7" y="78.6" width="371.0" height="118.0" rx="7.2" ry="7.2" fill="#fff" fill-opacity="0.8" stroke="#ccc" stroke-opacity="0.8" stroke-width="3.24"/>
<path d="M1117.7 108.5H1190.7" stroke="#ff7f0e" stroke-width="5.40" stroke-linecap="square"/>
<path d="M1143.4 108.5h21.6M1154.2 97.7v21.6" stroke="#ff7f0e" stroke-width="3.60"/>
<text x="1218.9" y="120.8" font-size="36.0" letter-spacing="0.2">current sect4</text>
<path d="M1117.7 163.3H1190.7" stroke="#1f77b4" stroke-width="5.40" stroke-linecap="square"/>
<path d="M1143.4 163.3h21.6M1154.2 152.5v21.6" stroke="#1f77b4" stroke-width="3.60"/>
<text x="1218.9" y="176.1" font-size="36.0" letter-spacing="0.2">new sect4</text>
<rect x="174.6" y="644.0" width="371.0" height="118.0" rx="7.2" ry="7.2" fill="#fff" fill-opacity="0.8" stroke="#ccc" stroke-opacity="0.8" stroke-width="3.24"/>
<path d="M188.6 673.9H261.6" stroke="#ff7f0e" stroke-width="5.40" stroke-linecap="square"/>
<path d="M214.3 673.9h21.6M225.1 663.1v21.6" stroke="#ff7f0e" stroke-width="3.60"/>
<text x="289.8" y="686.2" font-size="36.0" letter-spacing="0.2">current sect4</text>
<path d="M188.6 728.7H261.6" stroke="#1f77b4" stroke-width="5.40" stroke-linecap="square"/>
<path d="M214.3 728.7h21.6M225.1 717.9v21.6" stroke="#1f77b4" stroke-width="3.60"/>
<text x="289.8" y="741.5" font-size="36.0" letter-spacing="0.2">new sect4</text>
</svg></body></html>
